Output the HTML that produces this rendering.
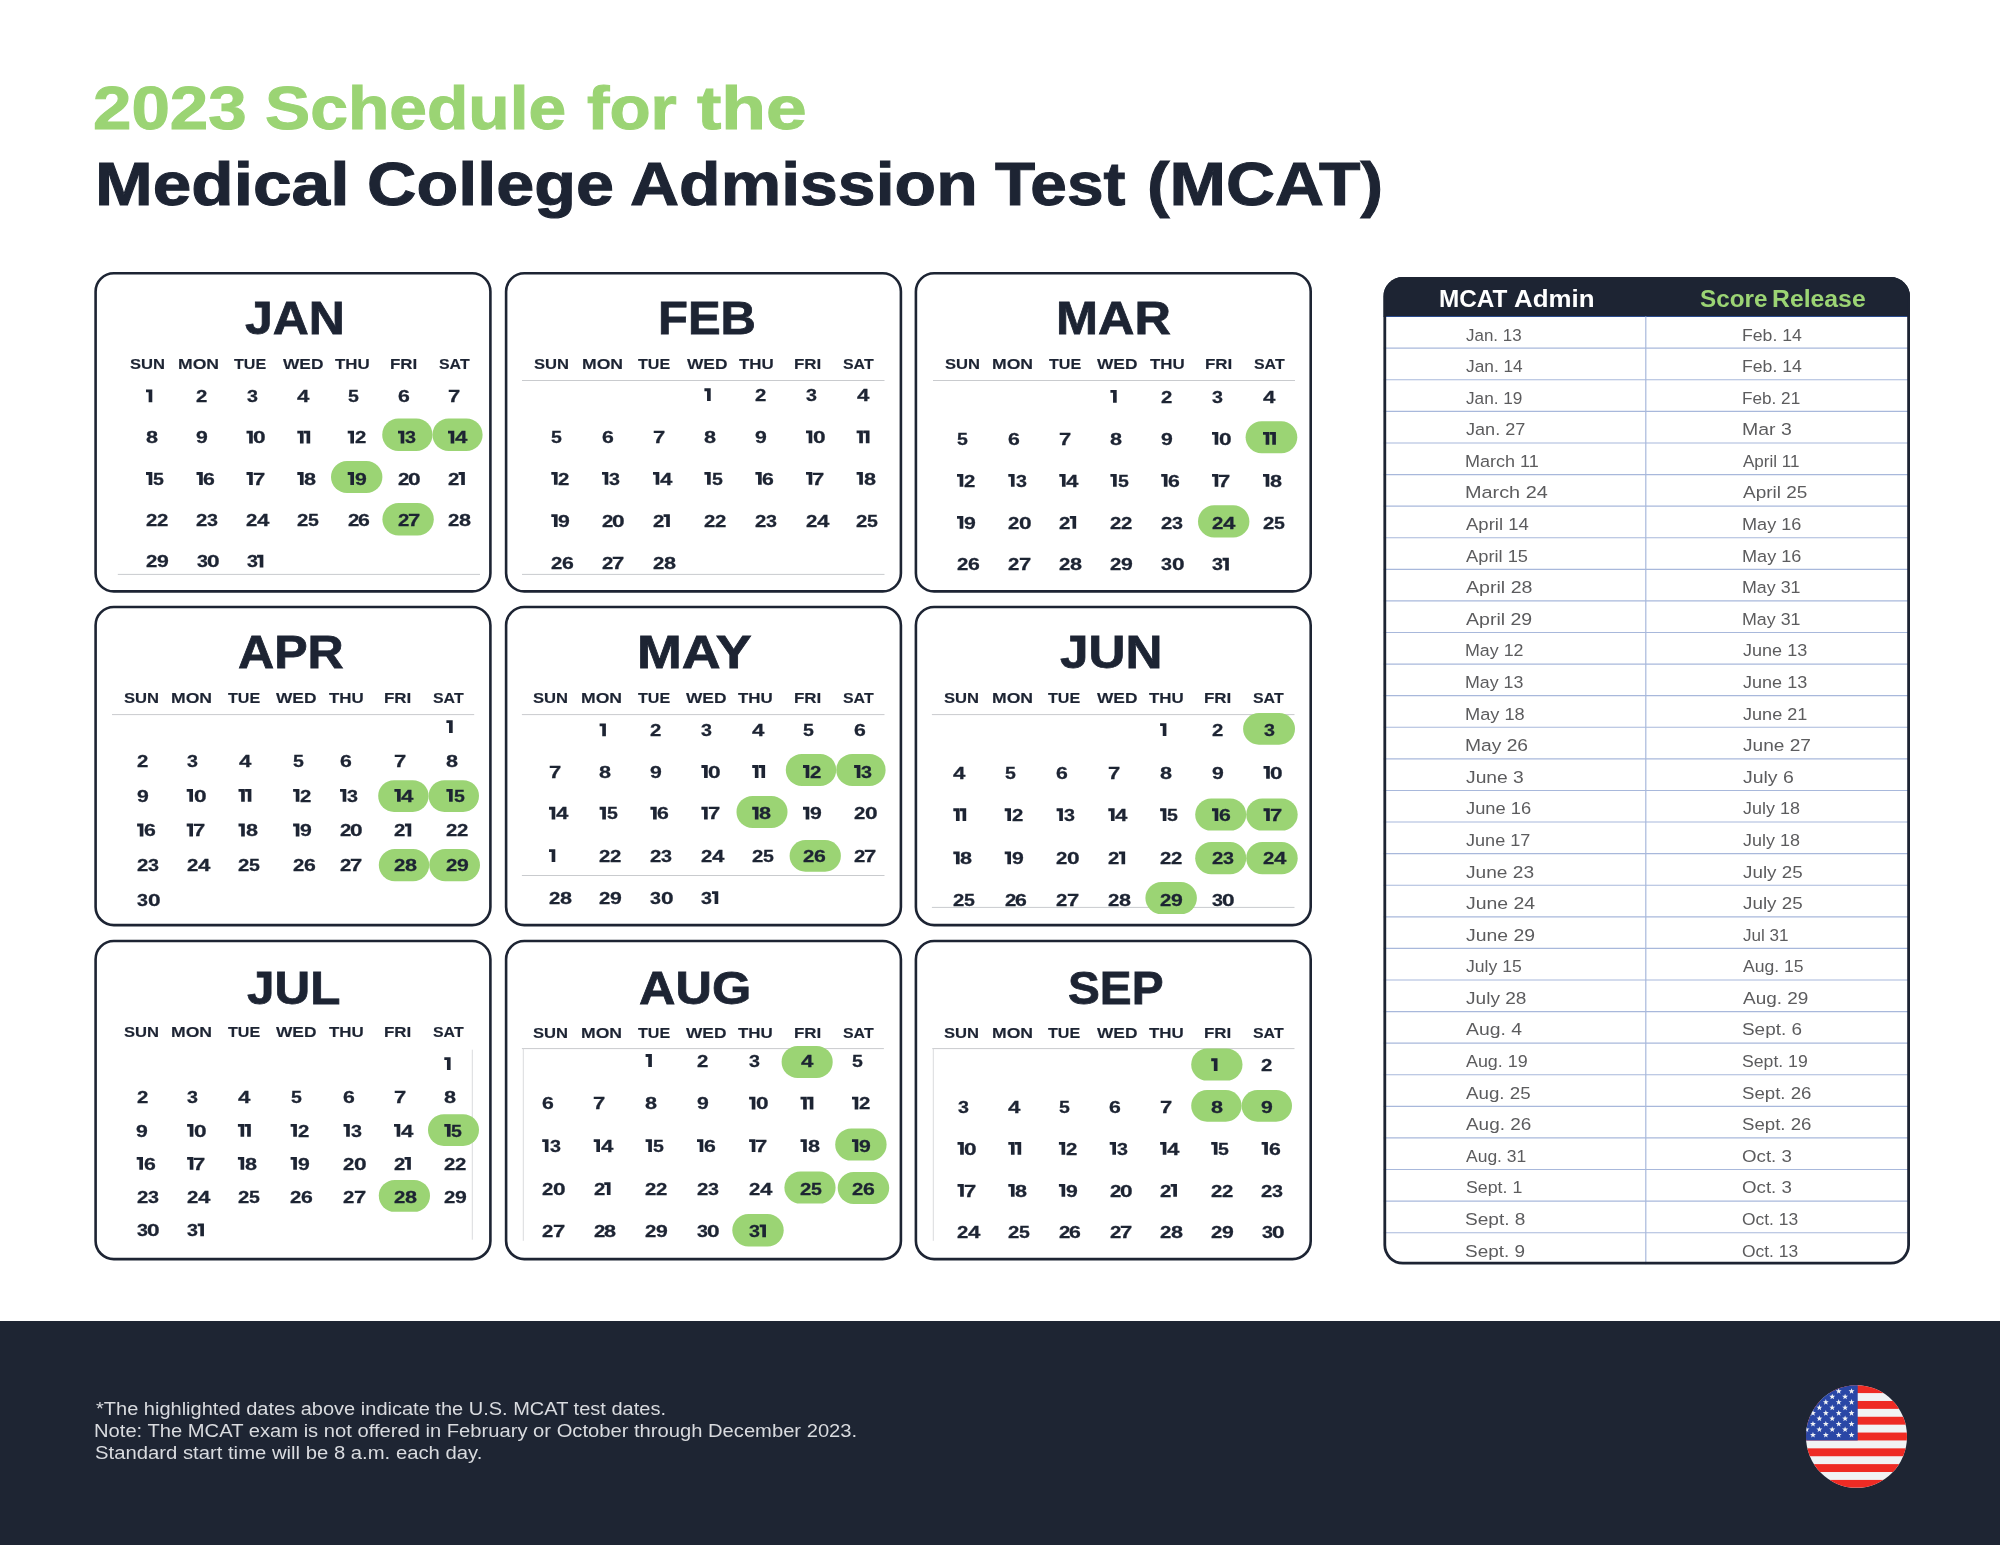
<!DOCTYPE html>
<html><head><meta charset="utf-8"><title>2023 MCAT Schedule</title>
<style>
html,body{margin:0;padding:0;background:#fff;}
body{width:2000px;height:1545px;position:relative;overflow:hidden;font-family:"Liberation Sans",sans-serif;}
#ft{position:absolute;left:0;top:1320.5px;width:2000px;height:224.5px;background:#1e2533;}
svg{position:absolute;left:0;top:0;}
#tx{will-change:transform;}
#tx span{position:absolute;white-space:pre;transform-origin:0 0;display:block;}
</style></head><body>
<div id="ft"></div>
<svg width="2000" height="1545" viewBox="0 0 2000 1545">
<rect x="95.60" y="273.30" width="394.80" height="318.10" rx="18.20" fill="none" stroke="#1d2433" stroke-width="2.6"/>
<line x1="117.8" y1="574.4" x2="480" y2="574.4" stroke="#c9cbce" stroke-width="1"/>
<rect x="382.2" y="418.6" width="50.30" height="32.40" rx="16.20" fill="#9bd474"/>
<rect x="432.5" y="418.6" width="50.10" height="32.40" rx="16.20" fill="#9bd474"/>
<rect x="331" y="461" width="51.40" height="32.00" rx="16.00" fill="#9bd474"/>
<rect x="382.4" y="503" width="51.40" height="32.50" rx="16.25" fill="#9bd474"/>
<path d="M146.00,389.40h6.3v12.80h-3.65v-9.95h-2.65z" fill="#1d2433"/>
<path d="M246.50,430.75h6.3v12.80h-3.65v-9.95h-2.65z" fill="#1d2433"/>
<path d="M297.30,430.75h6.3v12.80h-3.65v-9.95h-2.65z" fill="#1d2433"/>
<path d="M303.90,430.75h6.3v12.80h-3.65v-9.95h-2.65z" fill="#1d2433"/>
<path d="M347.70,430.75h6.3v12.80h-3.65v-9.95h-2.65z" fill="#1d2433"/>
<path d="M398.00,430.75h6.3v12.80h-3.65v-9.95h-2.65z" fill="#1d2433"/>
<path d="M448.00,430.75h6.3v12.80h-3.65v-9.95h-2.65z" fill="#1d2433"/>
<path d="M146.00,472.10h6.3v12.80h-3.65v-9.95h-2.65z" fill="#1d2433"/>
<path d="M196.50,472.10h6.3v12.80h-3.65v-9.95h-2.65z" fill="#1d2433"/>
<path d="M246.50,472.10h6.3v12.80h-3.65v-9.95h-2.65z" fill="#1d2433"/>
<path d="M297.30,472.10h6.3v12.80h-3.65v-9.95h-2.65z" fill="#1d2433"/>
<path d="M347.70,472.10h6.3v12.80h-3.65v-9.95h-2.65z" fill="#1d2433"/>
<path d="M458.55,472.10h6.3v12.80h-3.65v-9.95h-2.65z" fill="#1d2433"/>
<path d="M257.05,554.80h6.3v12.80h-3.65v-9.95h-2.65z" fill="#1d2433"/>
<rect x="506.10" y="273.30" width="394.80" height="318.10" rx="18.20" fill="none" stroke="#1d2433" stroke-width="2.6"/>
<line x1="522" y1="380.5" x2="884.5" y2="380.5" stroke="#c9cbce" stroke-width="1"/>
<line x1="522" y1="574.4" x2="884.5" y2="574.4" stroke="#c9cbce" stroke-width="1"/>
<path d="M704.40,388.30h6.3v12.80h-3.65v-9.95h-2.65z" fill="#1d2433"/>
<path d="M806.00,430.40h6.3v12.80h-3.65v-9.95h-2.65z" fill="#1d2433"/>
<path d="M856.60,430.40h6.3v12.80h-3.65v-9.95h-2.65z" fill="#1d2433"/>
<path d="M863.20,430.40h6.3v12.80h-3.65v-9.95h-2.65z" fill="#1d2433"/>
<path d="M551.30,472.00h6.3v12.80h-3.65v-9.95h-2.65z" fill="#1d2433"/>
<path d="M602.00,472.00h6.3v12.80h-3.65v-9.95h-2.65z" fill="#1d2433"/>
<path d="M653.00,472.00h6.3v12.80h-3.65v-9.95h-2.65z" fill="#1d2433"/>
<path d="M704.40,472.00h6.3v12.80h-3.65v-9.95h-2.65z" fill="#1d2433"/>
<path d="M755.40,472.00h6.3v12.80h-3.65v-9.95h-2.65z" fill="#1d2433"/>
<path d="M806.00,472.00h6.3v12.80h-3.65v-9.95h-2.65z" fill="#1d2433"/>
<path d="M856.60,472.00h6.3v12.80h-3.65v-9.95h-2.65z" fill="#1d2433"/>
<path d="M551.30,514.20h6.3v12.80h-3.65v-9.95h-2.65z" fill="#1d2433"/>
<path d="M663.55,514.20h6.3v12.80h-3.65v-9.95h-2.65z" fill="#1d2433"/>
<rect x="915.90" y="273.30" width="394.80" height="318.10" rx="18.20" fill="none" stroke="#1d2433" stroke-width="2.6"/>
<line x1="933" y1="380.5" x2="1295" y2="380.5" stroke="#c9cbce" stroke-width="1"/>
<rect x="1245.6" y="421.3" width="51.70" height="31.90" rx="15.95" fill="#9bd474"/>
<rect x="1198" y="505.3" width="51.40" height="32.30" rx="16.15" fill="#9bd474"/>
<path d="M1110.40,390.00h6.3v12.80h-3.65v-9.95h-2.65z" fill="#1d2433"/>
<path d="M1212.00,432.00h6.3v12.80h-3.65v-9.95h-2.65z" fill="#1d2433"/>
<path d="M1263.00,432.00h6.3v12.80h-3.65v-9.95h-2.65z" fill="#1d2433"/>
<path d="M1269.60,432.00h6.3v12.80h-3.65v-9.95h-2.65z" fill="#1d2433"/>
<path d="M957.00,474.00h6.3v12.80h-3.65v-9.95h-2.65z" fill="#1d2433"/>
<path d="M1008.30,474.00h6.3v12.80h-3.65v-9.95h-2.65z" fill="#1d2433"/>
<path d="M1059.30,474.00h6.3v12.80h-3.65v-9.95h-2.65z" fill="#1d2433"/>
<path d="M1110.40,474.00h6.3v12.80h-3.65v-9.95h-2.65z" fill="#1d2433"/>
<path d="M1161.20,474.00h6.3v12.80h-3.65v-9.95h-2.65z" fill="#1d2433"/>
<path d="M1212.00,474.00h6.3v12.80h-3.65v-9.95h-2.65z" fill="#1d2433"/>
<path d="M1263.00,474.00h6.3v12.80h-3.65v-9.95h-2.65z" fill="#1d2433"/>
<path d="M957.00,516.00h6.3v12.80h-3.65v-9.95h-2.65z" fill="#1d2433"/>
<path d="M1069.85,516.00h6.3v12.80h-3.65v-9.95h-2.65z" fill="#1d2433"/>
<path d="M1222.55,557.80h6.3v12.80h-3.65v-9.95h-2.65z" fill="#1d2433"/>
<rect x="95.60" y="607.00" width="394.80" height="318.10" rx="18.20" fill="none" stroke="#1d2433" stroke-width="2.6"/>
<line x1="112" y1="714.6" x2="474.2" y2="714.6" stroke="#c9cbce" stroke-width="1"/>
<rect x="378.2" y="780.2" width="50.40" height="31.70" rx="15.85" fill="#9bd474"/>
<rect x="428.6" y="780.2" width="50.40" height="31.70" rx="15.85" fill="#9bd474"/>
<rect x="378.8" y="849" width="50.40" height="32.20" rx="16.10" fill="#9bd474"/>
<rect x="429.2" y="849" width="50.80" height="32.20" rx="16.10" fill="#9bd474"/>
<path d="M446.40,720.20h6.3v12.80h-3.65v-9.95h-2.65z" fill="#1d2433"/>
<path d="M186.70,789.00h6.3v12.80h-3.65v-9.95h-2.65z" fill="#1d2433"/>
<path d="M238.50,789.00h6.3v12.80h-3.65v-9.95h-2.65z" fill="#1d2433"/>
<path d="M245.10,789.00h6.3v12.80h-3.65v-9.95h-2.65z" fill="#1d2433"/>
<path d="M293.10,789.00h6.3v12.80h-3.65v-9.95h-2.65z" fill="#1d2433"/>
<path d="M340.00,789.00h6.3v12.80h-3.65v-9.95h-2.65z" fill="#1d2433"/>
<path d="M394.40,789.00h6.3v12.80h-3.65v-9.95h-2.65z" fill="#1d2433"/>
<path d="M446.40,789.00h6.3v12.80h-3.65v-9.95h-2.65z" fill="#1d2433"/>
<path d="M137.10,823.60h6.3v12.80h-3.65v-9.95h-2.65z" fill="#1d2433"/>
<path d="M186.70,823.60h6.3v12.80h-3.65v-9.95h-2.65z" fill="#1d2433"/>
<path d="M238.50,823.60h6.3v12.80h-3.65v-9.95h-2.65z" fill="#1d2433"/>
<path d="M293.10,823.60h6.3v12.80h-3.65v-9.95h-2.65z" fill="#1d2433"/>
<path d="M404.95,823.60h6.3v12.80h-3.65v-9.95h-2.65z" fill="#1d2433"/>
<rect x="506.10" y="607.00" width="394.80" height="318.10" rx="18.20" fill="none" stroke="#1d2433" stroke-width="2.6"/>
<line x1="521.9" y1="714.6" x2="884.5" y2="714.6" stroke="#c9cbce" stroke-width="1"/>
<line x1="521.9" y1="875.5" x2="884.5" y2="875.5" stroke="#c9cbce" stroke-width="1"/>
<rect x="785.8" y="753.9" width="50.40" height="32.10" rx="16.05" fill="#9bd474"/>
<rect x="836.2" y="753.9" width="49.40" height="32.10" rx="16.05" fill="#9bd474"/>
<rect x="736.5" y="795.9" width="51.00" height="32.10" rx="16.05" fill="#9bd474"/>
<rect x="789.6" y="840" width="51.30" height="31.70" rx="15.85" fill="#9bd474"/>
<path d="M599.60,723.50h6.3v12.80h-3.65v-9.95h-2.65z" fill="#1d2433"/>
<path d="M701.40,765.10h6.3v12.80h-3.65v-9.95h-2.65z" fill="#1d2433"/>
<path d="M752.20,765.10h6.3v12.80h-3.65v-9.95h-2.65z" fill="#1d2433"/>
<path d="M758.80,765.10h6.3v12.80h-3.65v-9.95h-2.65z" fill="#1d2433"/>
<path d="M803.00,765.10h6.3v12.80h-3.65v-9.95h-2.65z" fill="#1d2433"/>
<path d="M854.10,765.10h6.3v12.80h-3.65v-9.95h-2.65z" fill="#1d2433"/>
<path d="M549.00,806.80h6.3v12.80h-3.65v-9.95h-2.65z" fill="#1d2433"/>
<path d="M599.60,806.80h6.3v12.80h-3.65v-9.95h-2.65z" fill="#1d2433"/>
<path d="M650.40,806.80h6.3v12.80h-3.65v-9.95h-2.65z" fill="#1d2433"/>
<path d="M701.40,806.80h6.3v12.80h-3.65v-9.95h-2.65z" fill="#1d2433"/>
<path d="M752.20,806.80h6.3v12.80h-3.65v-9.95h-2.65z" fill="#1d2433"/>
<path d="M803.00,806.80h6.3v12.80h-3.65v-9.95h-2.65z" fill="#1d2433"/>
<path d="M549.00,849.20h6.3v12.80h-3.65v-9.95h-2.65z" fill="#1d2433"/>
<path d="M711.95,891.20h6.3v12.80h-3.65v-9.95h-2.65z" fill="#1d2433"/>
<rect x="915.90" y="607.00" width="394.80" height="318.10" rx="18.20" fill="none" stroke="#1d2433" stroke-width="2.6"/>
<line x1="931.9" y1="714.6" x2="1294.5" y2="714.6" stroke="#c9cbce" stroke-width="1"/>
<line x1="931.9" y1="907.4" x2="1294.5" y2="907.4" stroke="#c9cbce" stroke-width="1"/>
<rect x="1243.1" y="713" width="51.90" height="31.70" rx="15.85" fill="#9bd474"/>
<rect x="1195.2" y="798.6" width="51.00" height="32.00" rx="16.00" fill="#9bd474"/>
<rect x="1246.2" y="798.6" width="51.50" height="32.00" rx="16.00" fill="#9bd474"/>
<rect x="1195.2" y="842.1" width="51.00" height="32.10" rx="16.05" fill="#9bd474"/>
<rect x="1246.2" y="842.1" width="51.50" height="32.10" rx="16.05" fill="#9bd474"/>
<rect x="1145.4" y="882" width="51.50" height="32.10" rx="16.05" fill="#9bd474"/>
<path d="M1160.10,723.20h6.3v12.80h-3.65v-9.95h-2.65z" fill="#1d2433"/>
<path d="M1263.50,765.90h6.3v12.80h-3.65v-9.95h-2.65z" fill="#1d2433"/>
<path d="M953.30,808.30h6.3v12.80h-3.65v-9.95h-2.65z" fill="#1d2433"/>
<path d="M959.90,808.30h6.3v12.80h-3.65v-9.95h-2.65z" fill="#1d2433"/>
<path d="M1004.70,808.30h6.3v12.80h-3.65v-9.95h-2.65z" fill="#1d2433"/>
<path d="M1056.60,808.30h6.3v12.80h-3.65v-9.95h-2.65z" fill="#1d2433"/>
<path d="M1108.30,808.30h6.3v12.80h-3.65v-9.95h-2.65z" fill="#1d2433"/>
<path d="M1160.10,808.30h6.3v12.80h-3.65v-9.95h-2.65z" fill="#1d2433"/>
<path d="M1212.00,808.30h6.3v12.80h-3.65v-9.95h-2.65z" fill="#1d2433"/>
<path d="M1263.50,808.30h6.3v12.80h-3.65v-9.95h-2.65z" fill="#1d2433"/>
<path d="M953.30,851.40h6.3v12.80h-3.65v-9.95h-2.65z" fill="#1d2433"/>
<path d="M1004.70,851.40h6.3v12.80h-3.65v-9.95h-2.65z" fill="#1d2433"/>
<path d="M1118.85,851.40h6.3v12.80h-3.65v-9.95h-2.65z" fill="#1d2433"/>
<rect x="95.60" y="941.00" width="394.80" height="318.10" rx="18.20" fill="none" stroke="#1d2433" stroke-width="2.6"/>
<line x1="472.3" y1="1049.7" x2="472.3" y2="1239.7" stroke="#d6d7da" stroke-width="0.9"/>
<rect x="428" y="1114.2" width="51.00" height="31.70" rx="15.85" fill="#9bd474"/>
<rect x="378.8" y="1179.9" width="51.20" height="31.90" rx="15.95" fill="#9bd474"/>
<path d="M444.30,1057.20h6.3v12.80h-3.65v-9.95h-2.65z" fill="#1d2433"/>
<path d="M187.10,1123.90h6.3v12.80h-3.65v-9.95h-2.65z" fill="#1d2433"/>
<path d="M237.90,1123.90h6.3v12.80h-3.65v-9.95h-2.65z" fill="#1d2433"/>
<path d="M244.50,1123.90h6.3v12.80h-3.65v-9.95h-2.65z" fill="#1d2433"/>
<path d="M290.60,1123.90h6.3v12.80h-3.65v-9.95h-2.65z" fill="#1d2433"/>
<path d="M343.50,1123.90h6.3v12.80h-3.65v-9.95h-2.65z" fill="#1d2433"/>
<path d="M394.00,1123.90h6.3v12.80h-3.65v-9.95h-2.65z" fill="#1d2433"/>
<path d="M444.30,1123.90h6.3v12.80h-3.65v-9.95h-2.65z" fill="#1d2433"/>
<path d="M136.70,1157.00h6.3v12.80h-3.65v-9.95h-2.65z" fill="#1d2433"/>
<path d="M187.10,1157.00h6.3v12.80h-3.65v-9.95h-2.65z" fill="#1d2433"/>
<path d="M237.90,1157.00h6.3v12.80h-3.65v-9.95h-2.65z" fill="#1d2433"/>
<path d="M290.60,1157.00h6.3v12.80h-3.65v-9.95h-2.65z" fill="#1d2433"/>
<path d="M404.55,1157.00h6.3v12.80h-3.65v-9.95h-2.65z" fill="#1d2433"/>
<path d="M197.65,1223.40h6.3v12.80h-3.65v-9.95h-2.65z" fill="#1d2433"/>
<rect x="506.10" y="941.00" width="394.80" height="318.10" rx="18.20" fill="none" stroke="#1d2433" stroke-width="2.6"/>
<line x1="521.9" y1="1048.6" x2="883.9" y2="1048.6" stroke="#c9cbce" stroke-width="1"/>
<line x1="523.3" y1="1048.6" x2="523.3" y2="1240.8" stroke="#d6d7da" stroke-width="0.9"/>
<rect x="781.6" y="1045.9" width="51.10" height="32.10" rx="16.05" fill="#9bd474"/>
<rect x="835.2" y="1128.4" width="51.40" height="32.20" rx="16.10" fill="#9bd474"/>
<rect x="784.4" y="1171.5" width="51.20" height="32.10" rx="16.05" fill="#9bd474"/>
<rect x="837.7" y="1172.1" width="51.50" height="31.90" rx="15.95" fill="#9bd474"/>
<rect x="732.3" y="1214.1" width="51.40" height="32.40" rx="16.20" fill="#9bd474"/>
<path d="M645.60,1054.10h6.3v12.80h-3.65v-9.95h-2.65z" fill="#1d2433"/>
<path d="M749.10,1096.70h6.3v12.80h-3.65v-9.95h-2.65z" fill="#1d2433"/>
<path d="M800.50,1096.70h6.3v12.80h-3.65v-9.95h-2.65z" fill="#1d2433"/>
<path d="M807.10,1096.70h6.3v12.80h-3.65v-9.95h-2.65z" fill="#1d2433"/>
<path d="M852.00,1096.70h6.3v12.80h-3.65v-9.95h-2.65z" fill="#1d2433"/>
<path d="M542.20,1139.20h6.3v12.80h-3.65v-9.95h-2.65z" fill="#1d2433"/>
<path d="M593.70,1139.20h6.3v12.80h-3.65v-9.95h-2.65z" fill="#1d2433"/>
<path d="M645.60,1139.20h6.3v12.80h-3.65v-9.95h-2.65z" fill="#1d2433"/>
<path d="M697.00,1139.20h6.3v12.80h-3.65v-9.95h-2.65z" fill="#1d2433"/>
<path d="M749.10,1139.20h6.3v12.80h-3.65v-9.95h-2.65z" fill="#1d2433"/>
<path d="M800.50,1139.20h6.3v12.80h-3.65v-9.95h-2.65z" fill="#1d2433"/>
<path d="M852.00,1139.20h6.3v12.80h-3.65v-9.95h-2.65z" fill="#1d2433"/>
<path d="M604.25,1182.20h6.3v12.80h-3.65v-9.95h-2.65z" fill="#1d2433"/>
<path d="M759.65,1224.40h6.3v12.80h-3.65v-9.95h-2.65z" fill="#1d2433"/>
<rect x="915.90" y="941.00" width="394.80" height="318.10" rx="18.20" fill="none" stroke="#1d2433" stroke-width="2.6"/>
<line x1="932.3" y1="1048.6" x2="1294.5" y2="1048.6" stroke="#c9cbce" stroke-width="1"/>
<line x1="933.3" y1="1048.6" x2="933.3" y2="1240.8" stroke="#d6d7da" stroke-width="0.9"/>
<rect x="1191.2" y="1048.6" width="51.30" height="32.00" rx="16.00" fill="#9bd474"/>
<rect x="1191.2" y="1090" width="50.40" height="31.70" rx="15.85" fill="#9bd474"/>
<rect x="1241.6" y="1090" width="50.40" height="31.70" rx="15.85" fill="#9bd474"/>
<path d="M1211.20,1058.30h6.3v12.80h-3.65v-9.95h-2.65z" fill="#1d2433"/>
<path d="M957.50,1141.90h6.3v12.80h-3.65v-9.95h-2.65z" fill="#1d2433"/>
<path d="M1008.30,1141.90h6.3v12.80h-3.65v-9.95h-2.65z" fill="#1d2433"/>
<path d="M1014.90,1141.90h6.3v12.80h-3.65v-9.95h-2.65z" fill="#1d2433"/>
<path d="M1058.90,1141.90h6.3v12.80h-3.65v-9.95h-2.65z" fill="#1d2433"/>
<path d="M1109.70,1141.90h6.3v12.80h-3.65v-9.95h-2.65z" fill="#1d2433"/>
<path d="M1160.10,1141.90h6.3v12.80h-3.65v-9.95h-2.65z" fill="#1d2433"/>
<path d="M1211.20,1141.90h6.3v12.80h-3.65v-9.95h-2.65z" fill="#1d2433"/>
<path d="M1261.60,1141.90h6.3v12.80h-3.65v-9.95h-2.65z" fill="#1d2433"/>
<path d="M957.50,1183.90h6.3v12.80h-3.65v-9.95h-2.65z" fill="#1d2433"/>
<path d="M1008.30,1183.90h6.3v12.80h-3.65v-9.95h-2.65z" fill="#1d2433"/>
<path d="M1058.90,1183.90h6.3v12.80h-3.65v-9.95h-2.65z" fill="#1d2433"/>
<path d="M1170.65,1183.90h6.3v12.80h-3.65v-9.95h-2.65z" fill="#1d2433"/>
<clipPath id="tc"><rect x="1383.4" y="277" width="526.5999999999999" height="987.5999999999999" rx="19.5"/></clipPath>
<g clip-path="url(#tc)"><rect x="1383.4" y="277" width="526.5999999999999" height="39.60000000000002" fill="#1d2433"/>
<line x1="1383.4" y1="348.19" x2="1910" y2="348.19" stroke="#a8b8db" stroke-width="1.15"/>
<line x1="1383.4" y1="379.78" x2="1910" y2="379.78" stroke="#a8b8db" stroke-width="1.15"/>
<line x1="1383.4" y1="411.37" x2="1910" y2="411.37" stroke="#a8b8db" stroke-width="1.15"/>
<line x1="1383.4" y1="442.96" x2="1910" y2="442.96" stroke="#a8b8db" stroke-width="1.15"/>
<line x1="1383.4" y1="474.55" x2="1910" y2="474.55" stroke="#a8b8db" stroke-width="1.15"/>
<line x1="1383.4" y1="506.14" x2="1910" y2="506.14" stroke="#a8b8db" stroke-width="1.15"/>
<line x1="1383.4" y1="537.73" x2="1910" y2="537.73" stroke="#a8b8db" stroke-width="1.15"/>
<line x1="1383.4" y1="569.32" x2="1910" y2="569.32" stroke="#a8b8db" stroke-width="1.15"/>
<line x1="1383.4" y1="600.91" x2="1910" y2="600.91" stroke="#a8b8db" stroke-width="1.15"/>
<line x1="1383.4" y1="632.50" x2="1910" y2="632.50" stroke="#a8b8db" stroke-width="1.15"/>
<line x1="1383.4" y1="664.09" x2="1910" y2="664.09" stroke="#a8b8db" stroke-width="1.15"/>
<line x1="1383.4" y1="695.68" x2="1910" y2="695.68" stroke="#a8b8db" stroke-width="1.15"/>
<line x1="1383.4" y1="727.27" x2="1910" y2="727.27" stroke="#a8b8db" stroke-width="1.15"/>
<line x1="1383.4" y1="758.86" x2="1910" y2="758.86" stroke="#a8b8db" stroke-width="1.15"/>
<line x1="1383.4" y1="790.45" x2="1910" y2="790.45" stroke="#a8b8db" stroke-width="1.15"/>
<line x1="1383.4" y1="822.04" x2="1910" y2="822.04" stroke="#a8b8db" stroke-width="1.15"/>
<line x1="1383.4" y1="853.63" x2="1910" y2="853.63" stroke="#a8b8db" stroke-width="1.15"/>
<line x1="1383.4" y1="885.22" x2="1910" y2="885.22" stroke="#a8b8db" stroke-width="1.15"/>
<line x1="1383.4" y1="916.81" x2="1910" y2="916.81" stroke="#a8b8db" stroke-width="1.15"/>
<line x1="1383.4" y1="948.40" x2="1910" y2="948.40" stroke="#a8b8db" stroke-width="1.15"/>
<line x1="1383.4" y1="979.99" x2="1910" y2="979.99" stroke="#a8b8db" stroke-width="1.15"/>
<line x1="1383.4" y1="1011.58" x2="1910" y2="1011.58" stroke="#a8b8db" stroke-width="1.15"/>
<line x1="1383.4" y1="1043.17" x2="1910" y2="1043.17" stroke="#a8b8db" stroke-width="1.15"/>
<line x1="1383.4" y1="1074.76" x2="1910" y2="1074.76" stroke="#a8b8db" stroke-width="1.15"/>
<line x1="1383.4" y1="1106.35" x2="1910" y2="1106.35" stroke="#a8b8db" stroke-width="1.15"/>
<line x1="1383.4" y1="1137.94" x2="1910" y2="1137.94" stroke="#a8b8db" stroke-width="1.15"/>
<line x1="1383.4" y1="1169.53" x2="1910" y2="1169.53" stroke="#a8b8db" stroke-width="1.15"/>
<line x1="1383.4" y1="1201.12" x2="1910" y2="1201.12" stroke="#a8b8db" stroke-width="1.15"/>
<line x1="1383.4" y1="1232.71" x2="1910" y2="1232.71" stroke="#a8b8db" stroke-width="1.15"/>
<line x1="1383.4" y1="316.50" x2="1910" y2="316.50" stroke="#2a4b8d" stroke-width="1"/>
<line x1="1645.8" y1="316.6" x2="1645.8" y2="1264.6" stroke="#a8b8db" stroke-width="1.2"/></g>
<rect x="1384.80" y="278.40" width="523.80" height="984.80" rx="18.10" fill="none" stroke="#1d2433" stroke-width="2.8"/>
<clipPath id="fc"><ellipse cx="1856.5" cy="1436.5" rx="50.5" ry="51.3"/></clipPath><g clip-path="url(#fc)">
<rect x="1804.2" y="1384.2" width="104.6" height="104.6" fill="#f1f3f4"/>
<rect x="1804.2" y="1385.20" width="104.6" height="7.89" fill="#ee2b24"/>
<rect x="1804.2" y="1400.98" width="104.6" height="7.89" fill="#ee2b24"/>
<rect x="1804.2" y="1416.77" width="104.6" height="7.89" fill="#ee2b24"/>
<rect x="1804.2" y="1432.55" width="104.6" height="7.89" fill="#ee2b24"/>
<rect x="1804.2" y="1448.34" width="104.6" height="7.89" fill="#ee2b24"/>
<rect x="1804.2" y="1464.12" width="104.6" height="7.89" fill="#ee2b24"/>
<rect x="1804.2" y="1479.91" width="104.6" height="7.89" fill="#ee2b24"/>
<rect x="1804.2" y="1384.2" width="53.50" height="56.25" fill="#2a47a6"/>
<polygon points="1851.55,1388.20 1852.32,1390.25 1854.50,1390.34 1852.79,1391.70 1853.37,1393.81 1851.55,1392.60 1849.73,1393.81 1850.31,1391.70 1848.60,1390.34 1850.78,1390.25" fill="#f1f3f4"/>
<polygon points="1838.69,1388.20 1839.46,1390.25 1841.64,1390.34 1839.93,1391.70 1840.51,1393.81 1838.69,1392.60 1836.87,1393.81 1837.45,1391.70 1835.74,1390.34 1837.92,1390.25" fill="#f1f3f4"/>
<polygon points="1825.83,1388.20 1826.60,1390.25 1828.78,1390.34 1827.07,1391.70 1827.65,1393.81 1825.83,1392.60 1824.01,1393.81 1824.59,1391.70 1822.88,1390.34 1825.06,1390.25" fill="#f1f3f4"/>
<polygon points="1812.97,1388.20 1813.74,1390.25 1815.92,1390.34 1814.21,1391.70 1814.79,1393.81 1812.97,1392.60 1811.15,1393.81 1811.73,1391.70 1810.02,1390.34 1812.20,1390.25" fill="#f1f3f4"/>
<polygon points="1800.11,1388.20 1800.88,1390.25 1803.06,1390.34 1801.35,1391.70 1801.93,1393.81 1800.11,1392.60 1798.29,1393.81 1798.87,1391.70 1797.16,1390.34 1799.34,1390.25" fill="#f1f3f4"/>
<polygon points="1845.10,1393.66 1845.87,1395.71 1848.05,1395.80 1846.34,1397.16 1846.92,1399.27 1845.10,1398.06 1843.28,1399.27 1843.86,1397.16 1842.15,1395.80 1844.33,1395.71" fill="#f1f3f4"/>
<polygon points="1832.24,1393.66 1833.01,1395.71 1835.19,1395.80 1833.48,1397.16 1834.06,1399.27 1832.24,1398.06 1830.42,1399.27 1831.00,1397.16 1829.29,1395.80 1831.47,1395.71" fill="#f1f3f4"/>
<polygon points="1819.38,1393.66 1820.15,1395.71 1822.33,1395.80 1820.62,1397.16 1821.20,1399.27 1819.38,1398.06 1817.56,1399.27 1818.14,1397.16 1816.43,1395.80 1818.61,1395.71" fill="#f1f3f4"/>
<polygon points="1806.52,1393.66 1807.29,1395.71 1809.47,1395.80 1807.76,1397.16 1808.34,1399.27 1806.52,1398.06 1804.70,1399.27 1805.28,1397.16 1803.57,1395.80 1805.75,1395.71" fill="#f1f3f4"/>
<polygon points="1851.55,1399.12 1852.32,1401.17 1854.50,1401.26 1852.79,1402.62 1853.37,1404.73 1851.55,1403.52 1849.73,1404.73 1850.31,1402.62 1848.60,1401.26 1850.78,1401.17" fill="#f1f3f4"/>
<polygon points="1838.69,1399.12 1839.46,1401.17 1841.64,1401.26 1839.93,1402.62 1840.51,1404.73 1838.69,1403.52 1836.87,1404.73 1837.45,1402.62 1835.74,1401.26 1837.92,1401.17" fill="#f1f3f4"/>
<polygon points="1825.83,1399.12 1826.60,1401.17 1828.78,1401.26 1827.07,1402.62 1827.65,1404.73 1825.83,1403.52 1824.01,1404.73 1824.59,1402.62 1822.88,1401.26 1825.06,1401.17" fill="#f1f3f4"/>
<polygon points="1812.97,1399.12 1813.74,1401.17 1815.92,1401.26 1814.21,1402.62 1814.79,1404.73 1812.97,1403.52 1811.15,1404.73 1811.73,1402.62 1810.02,1401.26 1812.20,1401.17" fill="#f1f3f4"/>
<polygon points="1800.11,1399.12 1800.88,1401.17 1803.06,1401.26 1801.35,1402.62 1801.93,1404.73 1800.11,1403.52 1798.29,1404.73 1798.87,1402.62 1797.16,1401.26 1799.34,1401.17" fill="#f1f3f4"/>
<polygon points="1845.10,1404.58 1845.87,1406.63 1848.05,1406.72 1846.34,1408.08 1846.92,1410.19 1845.10,1408.98 1843.28,1410.19 1843.86,1408.08 1842.15,1406.72 1844.33,1406.63" fill="#f1f3f4"/>
<polygon points="1832.24,1404.58 1833.01,1406.63 1835.19,1406.72 1833.48,1408.08 1834.06,1410.19 1832.24,1408.98 1830.42,1410.19 1831.00,1408.08 1829.29,1406.72 1831.47,1406.63" fill="#f1f3f4"/>
<polygon points="1819.38,1404.58 1820.15,1406.63 1822.33,1406.72 1820.62,1408.08 1821.20,1410.19 1819.38,1408.98 1817.56,1410.19 1818.14,1408.08 1816.43,1406.72 1818.61,1406.63" fill="#f1f3f4"/>
<polygon points="1806.52,1404.58 1807.29,1406.63 1809.47,1406.72 1807.76,1408.08 1808.34,1410.19 1806.52,1408.98 1804.70,1410.19 1805.28,1408.08 1803.57,1406.72 1805.75,1406.63" fill="#f1f3f4"/>
<polygon points="1851.55,1410.04 1852.32,1412.09 1854.50,1412.18 1852.79,1413.54 1853.37,1415.65 1851.55,1414.44 1849.73,1415.65 1850.31,1413.54 1848.60,1412.18 1850.78,1412.09" fill="#f1f3f4"/>
<polygon points="1838.69,1410.04 1839.46,1412.09 1841.64,1412.18 1839.93,1413.54 1840.51,1415.65 1838.69,1414.44 1836.87,1415.65 1837.45,1413.54 1835.74,1412.18 1837.92,1412.09" fill="#f1f3f4"/>
<polygon points="1825.83,1410.04 1826.60,1412.09 1828.78,1412.18 1827.07,1413.54 1827.65,1415.65 1825.83,1414.44 1824.01,1415.65 1824.59,1413.54 1822.88,1412.18 1825.06,1412.09" fill="#f1f3f4"/>
<polygon points="1812.97,1410.04 1813.74,1412.09 1815.92,1412.18 1814.21,1413.54 1814.79,1415.65 1812.97,1414.44 1811.15,1415.65 1811.73,1413.54 1810.02,1412.18 1812.20,1412.09" fill="#f1f3f4"/>
<polygon points="1800.11,1410.04 1800.88,1412.09 1803.06,1412.18 1801.35,1413.54 1801.93,1415.65 1800.11,1414.44 1798.29,1415.65 1798.87,1413.54 1797.16,1412.18 1799.34,1412.09" fill="#f1f3f4"/>
<polygon points="1845.10,1415.50 1845.87,1417.55 1848.05,1417.64 1846.34,1419.00 1846.92,1421.11 1845.10,1419.90 1843.28,1421.11 1843.86,1419.00 1842.15,1417.64 1844.33,1417.55" fill="#f1f3f4"/>
<polygon points="1832.24,1415.50 1833.01,1417.55 1835.19,1417.64 1833.48,1419.00 1834.06,1421.11 1832.24,1419.90 1830.42,1421.11 1831.00,1419.00 1829.29,1417.64 1831.47,1417.55" fill="#f1f3f4"/>
<polygon points="1819.38,1415.50 1820.15,1417.55 1822.33,1417.64 1820.62,1419.00 1821.20,1421.11 1819.38,1419.90 1817.56,1421.11 1818.14,1419.00 1816.43,1417.64 1818.61,1417.55" fill="#f1f3f4"/>
<polygon points="1806.52,1415.50 1807.29,1417.55 1809.47,1417.64 1807.76,1419.00 1808.34,1421.11 1806.52,1419.90 1804.70,1421.11 1805.28,1419.00 1803.57,1417.64 1805.75,1417.55" fill="#f1f3f4"/>
<polygon points="1851.55,1420.96 1852.32,1423.01 1854.50,1423.10 1852.79,1424.46 1853.37,1426.57 1851.55,1425.36 1849.73,1426.57 1850.31,1424.46 1848.60,1423.10 1850.78,1423.01" fill="#f1f3f4"/>
<polygon points="1838.69,1420.96 1839.46,1423.01 1841.64,1423.10 1839.93,1424.46 1840.51,1426.57 1838.69,1425.36 1836.87,1426.57 1837.45,1424.46 1835.74,1423.10 1837.92,1423.01" fill="#f1f3f4"/>
<polygon points="1825.83,1420.96 1826.60,1423.01 1828.78,1423.10 1827.07,1424.46 1827.65,1426.57 1825.83,1425.36 1824.01,1426.57 1824.59,1424.46 1822.88,1423.10 1825.06,1423.01" fill="#f1f3f4"/>
<polygon points="1812.97,1420.96 1813.74,1423.01 1815.92,1423.10 1814.21,1424.46 1814.79,1426.57 1812.97,1425.36 1811.15,1426.57 1811.73,1424.46 1810.02,1423.10 1812.20,1423.01" fill="#f1f3f4"/>
<polygon points="1800.11,1420.96 1800.88,1423.01 1803.06,1423.10 1801.35,1424.46 1801.93,1426.57 1800.11,1425.36 1798.29,1426.57 1798.87,1424.46 1797.16,1423.10 1799.34,1423.01" fill="#f1f3f4"/>
<polygon points="1845.10,1426.42 1845.87,1428.47 1848.05,1428.56 1846.34,1429.92 1846.92,1432.03 1845.10,1430.82 1843.28,1432.03 1843.86,1429.92 1842.15,1428.56 1844.33,1428.47" fill="#f1f3f4"/>
<polygon points="1832.24,1426.42 1833.01,1428.47 1835.19,1428.56 1833.48,1429.92 1834.06,1432.03 1832.24,1430.82 1830.42,1432.03 1831.00,1429.92 1829.29,1428.56 1831.47,1428.47" fill="#f1f3f4"/>
<polygon points="1819.38,1426.42 1820.15,1428.47 1822.33,1428.56 1820.62,1429.92 1821.20,1432.03 1819.38,1430.82 1817.56,1432.03 1818.14,1429.92 1816.43,1428.56 1818.61,1428.47" fill="#f1f3f4"/>
<polygon points="1806.52,1426.42 1807.29,1428.47 1809.47,1428.56 1807.76,1429.92 1808.34,1432.03 1806.52,1430.82 1804.70,1432.03 1805.28,1429.92 1803.57,1428.56 1805.75,1428.47" fill="#f1f3f4"/>
<polygon points="1851.55,1431.88 1852.32,1433.93 1854.50,1434.02 1852.79,1435.38 1853.37,1437.49 1851.55,1436.28 1849.73,1437.49 1850.31,1435.38 1848.60,1434.02 1850.78,1433.93" fill="#f1f3f4"/>
<polygon points="1838.69,1431.88 1839.46,1433.93 1841.64,1434.02 1839.93,1435.38 1840.51,1437.49 1838.69,1436.28 1836.87,1437.49 1837.45,1435.38 1835.74,1434.02 1837.92,1433.93" fill="#f1f3f4"/>
<polygon points="1825.83,1431.88 1826.60,1433.93 1828.78,1434.02 1827.07,1435.38 1827.65,1437.49 1825.83,1436.28 1824.01,1437.49 1824.59,1435.38 1822.88,1434.02 1825.06,1433.93" fill="#f1f3f4"/>
<polygon points="1812.97,1431.88 1813.74,1433.93 1815.92,1434.02 1814.21,1435.38 1814.79,1437.49 1812.97,1436.28 1811.15,1437.49 1811.73,1435.38 1810.02,1434.02 1812.20,1433.93" fill="#f1f3f4"/>
<polygon points="1800.11,1431.88 1800.88,1433.93 1803.06,1434.02 1801.35,1435.38 1801.93,1437.49 1800.11,1436.28 1798.29,1437.49 1798.87,1435.38 1797.16,1434.02 1799.34,1433.93" fill="#f1f3f4"/>
</g>
</svg>
<div id="tx">
<span style="left:92.57px;top:70.99px;font-size:61.73px;line-height:74px;font-weight:bold;color:#9bd474;transform:scaleX(1.1193);-webkit-text-stroke:1.01px #9bd474;">2023</span>
<span style="left:264.96px;top:70.99px;font-size:61.73px;line-height:74px;font-weight:bold;color:#9bd474;transform:scaleX(1.0979);-webkit-text-stroke:1.01px #9bd474;">Schedule</span>
<span style="left:586.91px;top:70.99px;font-size:61.73px;line-height:74px;font-weight:bold;color:#9bd474;transform:scaleX(1.0919);-webkit-text-stroke:1.01px #9bd474;">for</span>
<span style="left:696.68px;top:70.99px;font-size:61.73px;line-height:74px;font-weight:bold;color:#9bd474;transform:scaleX(1.1856);-webkit-text-stroke:1.01px #9bd474;">the</span>
<span style="left:94.91px;top:146.69px;font-size:61.73px;line-height:74px;font-weight:bold;color:#1d2433;transform:scaleX(1.1239);-webkit-text-stroke:1.01px #1d2433;">Medical</span>
<span style="left:367.27px;top:146.69px;font-size:61.73px;line-height:74px;font-weight:bold;color:#1d2433;transform:scaleX(1.1078);-webkit-text-stroke:1.01px #1d2433;">College</span>
<span style="left:630.19px;top:146.69px;font-size:61.73px;line-height:74px;font-weight:bold;color:#1d2433;transform:scaleX(1.1020);-webkit-text-stroke:1.01px #1d2433;">Admission</span>
<span style="left:994.85px;top:146.69px;font-size:61.73px;line-height:74px;font-weight:bold;color:#1d2433;transform:scaleX(1.0661);-webkit-text-stroke:1.01px #1d2433;">Test</span>
<span style="left:1147.20px;top:146.69px;font-size:61.73px;line-height:74px;font-weight:bold;color:#1d2433;transform:scaleX(1.0991);-webkit-text-stroke:1.01px #1d2433;">(MCAT)</span>
<span style="left:244.93px;top:289.72px;font-size:46.49px;line-height:56px;font-weight:bold;color:#1d2433;transform:scaleX(1.0733);-webkit-text-stroke:0.76px #1d2433;">JAN</span>
<span style="left:130.00px;top:355.03px;font-size:15.18px;line-height:18px;font-weight:bold;color:#1d2433;transform:scaleX(1.0936);-webkit-text-stroke:0.15px #1d2433;">SUN</span>
<span style="left:177.61px;top:355.03px;font-size:15.18px;line-height:18px;font-weight:bold;color:#1d2433;transform:scaleX(1.1603);-webkit-text-stroke:0.15px #1d2433;">MON</span>
<span style="left:234.21px;top:355.03px;font-size:15.18px;line-height:18px;font-weight:bold;color:#1d2433;transform:scaleX(1.0584);-webkit-text-stroke:0.15px #1d2433;">TUE</span>
<span style="left:282.68px;top:355.03px;font-size:15.18px;line-height:18px;font-weight:bold;color:#1d2433;transform:scaleX(1.1422);-webkit-text-stroke:0.15px #1d2433;">WED</span>
<span style="left:334.91px;top:355.03px;font-size:15.18px;line-height:18px;font-weight:bold;color:#1d2433;transform:scaleX(1.1141);-webkit-text-stroke:0.15px #1d2433;">THU</span>
<span style="left:390.35px;top:355.03px;font-size:15.18px;line-height:18px;font-weight:bold;color:#1d2433;transform:scaleX(1.1169);-webkit-text-stroke:0.15px #1d2433;">FRI</span>
<span style="left:439.12px;top:355.03px;font-size:15.18px;line-height:18px;font-weight:bold;color:#1d2433;transform:scaleX(1.0488);-webkit-text-stroke:0.15px #1d2433;">SAT</span>
<span style="left:196.30px;top:386.06px;font-size:17.09px;line-height:21px;font-weight:bold;color:#1d2433;transform:scaleX(1.1909);-webkit-text-stroke:0.28px #1d2433;">2</span>
<span style="left:246.55px;top:386.06px;font-size:17.09px;line-height:21px;font-weight:bold;color:#1d2433;transform:scaleX(1.1521);-webkit-text-stroke:0.28px #1d2433;">3</span>
<span style="left:297.46px;top:386.06px;font-size:17.09px;line-height:21px;font-weight:bold;color:#1d2433;transform:scaleX(1.3007);-webkit-text-stroke:0.28px #1d2433;">4</span>
<span style="left:347.61px;top:386.06px;font-size:17.09px;line-height:21px;font-weight:bold;color:#1d2433;transform:scaleX(1.1404);-webkit-text-stroke:0.28px #1d2433;">5</span>
<span style="left:397.72px;top:386.06px;font-size:17.09px;line-height:21px;font-weight:bold;color:#1d2433;transform:scaleX(1.2451);-webkit-text-stroke:0.28px #1d2433;">6</span>
<span style="left:447.56px;top:386.06px;font-size:17.09px;line-height:21px;font-weight:bold;color:#1d2433;transform:scaleX(1.2848);-webkit-text-stroke:0.28px #1d2433;">7</span>
<span style="left:145.81px;top:427.41px;font-size:17.09px;line-height:21px;font-weight:bold;color:#1d2433;transform:scaleX(1.2672);-webkit-text-stroke:0.28px #1d2433;">8</span>
<span style="left:196.27px;top:427.41px;font-size:17.09px;line-height:21px;font-weight:bold;color:#1d2433;transform:scaleX(1.2419);-webkit-text-stroke:0.28px #1d2433;">9</span>
<span style="left:253.36px;top:427.41px;font-size:17.09px;line-height:21px;font-weight:bold;color:#1d2433;transform:scaleX(1.3259);-webkit-text-stroke:0.28px #1d2433;">0</span>
<span style="left:354.75px;top:427.41px;font-size:17.09px;line-height:21px;font-weight:bold;color:#1d2433;transform:scaleX(1.1909);-webkit-text-stroke:0.28px #1d2433;">2</span>
<span style="left:405.30px;top:427.41px;font-size:17.09px;line-height:21px;font-weight:bold;color:#1d2433;transform:scaleX(1.1521);-webkit-text-stroke:0.28px #1d2433;">3</span>
<span style="left:454.91px;top:427.41px;font-size:17.09px;line-height:21px;font-weight:bold;color:#1d2433;transform:scaleX(1.3007);-webkit-text-stroke:0.28px #1d2433;">4</span>
<span style="left:153.16px;top:468.76px;font-size:17.09px;line-height:21px;font-weight:bold;color:#1d2433;transform:scaleX(1.1404);-webkit-text-stroke:0.28px #1d2433;">5</span>
<span style="left:203.47px;top:468.76px;font-size:17.09px;line-height:21px;font-weight:bold;color:#1d2433;transform:scaleX(1.2451);-webkit-text-stroke:0.28px #1d2433;">6</span>
<span style="left:252.81px;top:468.76px;font-size:17.09px;line-height:21px;font-weight:bold;color:#1d2433;transform:scaleX(1.2848);-webkit-text-stroke:0.28px #1d2433;">7</span>
<span style="left:304.36px;top:468.76px;font-size:17.09px;line-height:21px;font-weight:bold;color:#1d2433;transform:scaleX(1.2672);-webkit-text-stroke:0.28px #1d2433;">8</span>
<span style="left:354.72px;top:468.76px;font-size:17.09px;line-height:21px;font-weight:bold;color:#1d2433;transform:scaleX(1.2419);-webkit-text-stroke:0.28px #1d2433;">9</span>
<span style="left:397.80px;top:468.76px;font-size:17.09px;line-height:21px;font-weight:bold;color:#1d2433;transform:scaleX(1.1909);-webkit-text-stroke:0.28px #1d2433;">2</span>
<span style="left:408.41px;top:468.76px;font-size:17.09px;line-height:21px;font-weight:bold;color:#1d2433;transform:scaleX(1.3259);-webkit-text-stroke:0.28px #1d2433;">0</span>
<span style="left:447.80px;top:468.76px;font-size:17.09px;line-height:21px;font-weight:bold;color:#1d2433;transform:scaleX(1.1909);-webkit-text-stroke:0.28px #1d2433;">2</span>
<span style="left:145.80px;top:510.11px;font-size:17.09px;line-height:21px;font-weight:bold;color:#1d2433;transform:scaleX(1.1909);-webkit-text-stroke:0.28px #1d2433;">2</span>
<span style="left:156.60px;top:510.11px;font-size:17.09px;line-height:21px;font-weight:bold;color:#1d2433;transform:scaleX(1.1909);-webkit-text-stroke:0.28px #1d2433;">2</span>
<span style="left:196.30px;top:510.11px;font-size:17.09px;line-height:21px;font-weight:bold;color:#1d2433;transform:scaleX(1.1909);-webkit-text-stroke:0.28px #1d2433;">2</span>
<span style="left:207.35px;top:510.11px;font-size:17.09px;line-height:21px;font-weight:bold;color:#1d2433;transform:scaleX(1.1521);-webkit-text-stroke:0.28px #1d2433;">3</span>
<span style="left:246.30px;top:510.11px;font-size:17.09px;line-height:21px;font-weight:bold;color:#1d2433;transform:scaleX(1.1909);-webkit-text-stroke:0.28px #1d2433;">2</span>
<span style="left:257.46px;top:510.11px;font-size:17.09px;line-height:21px;font-weight:bold;color:#1d2433;transform:scaleX(1.3007);-webkit-text-stroke:0.28px #1d2433;">4</span>
<span style="left:297.10px;top:510.11px;font-size:17.09px;line-height:21px;font-weight:bold;color:#1d2433;transform:scaleX(1.1909);-webkit-text-stroke:0.28px #1d2433;">2</span>
<span style="left:308.01px;top:510.11px;font-size:17.09px;line-height:21px;font-weight:bold;color:#1d2433;transform:scaleX(1.1404);-webkit-text-stroke:0.28px #1d2433;">5</span>
<span style="left:347.50px;top:510.11px;font-size:17.09px;line-height:21px;font-weight:bold;color:#1d2433;transform:scaleX(1.1909);-webkit-text-stroke:0.28px #1d2433;">2</span>
<span style="left:358.22px;top:510.11px;font-size:17.09px;line-height:21px;font-weight:bold;color:#1d2433;transform:scaleX(1.2451);-webkit-text-stroke:0.28px #1d2433;">6</span>
<span style="left:397.80px;top:510.11px;font-size:17.09px;line-height:21px;font-weight:bold;color:#1d2433;transform:scaleX(1.1909);-webkit-text-stroke:0.28px #1d2433;">2</span>
<span style="left:408.36px;top:510.11px;font-size:17.09px;line-height:21px;font-weight:bold;color:#1d2433;transform:scaleX(1.2848);-webkit-text-stroke:0.28px #1d2433;">7</span>
<span style="left:447.80px;top:510.11px;font-size:17.09px;line-height:21px;font-weight:bold;color:#1d2433;transform:scaleX(1.1909);-webkit-text-stroke:0.28px #1d2433;">2</span>
<span style="left:458.61px;top:510.11px;font-size:17.09px;line-height:21px;font-weight:bold;color:#1d2433;transform:scaleX(1.2672);-webkit-text-stroke:0.28px #1d2433;">8</span>
<span style="left:145.80px;top:551.46px;font-size:17.09px;line-height:21px;font-weight:bold;color:#1d2433;transform:scaleX(1.1909);-webkit-text-stroke:0.28px #1d2433;">2</span>
<span style="left:156.57px;top:551.46px;font-size:17.09px;line-height:21px;font-weight:bold;color:#1d2433;transform:scaleX(1.2419);-webkit-text-stroke:0.28px #1d2433;">9</span>
<span style="left:196.55px;top:551.46px;font-size:17.09px;line-height:21px;font-weight:bold;color:#1d2433;transform:scaleX(1.1521);-webkit-text-stroke:0.28px #1d2433;">3</span>
<span style="left:206.91px;top:551.46px;font-size:17.09px;line-height:21px;font-weight:bold;color:#1d2433;transform:scaleX(1.3259);-webkit-text-stroke:0.28px #1d2433;">0</span>
<span style="left:246.55px;top:551.46px;font-size:17.09px;line-height:21px;font-weight:bold;color:#1d2433;transform:scaleX(1.1521);-webkit-text-stroke:0.28px #1d2433;">3</span>
<span style="left:658.13px;top:289.72px;font-size:46.49px;line-height:56px;font-weight:bold;color:#1d2433;transform:scaleX(1.0539);-webkit-text-stroke:0.76px #1d2433;">FEB</span>
<span style="left:533.90px;top:355.03px;font-size:15.18px;line-height:18px;font-weight:bold;color:#1d2433;transform:scaleX(1.0936);-webkit-text-stroke:0.15px #1d2433;">SUN</span>
<span style="left:581.51px;top:355.03px;font-size:15.18px;line-height:18px;font-weight:bold;color:#1d2433;transform:scaleX(1.1603);-webkit-text-stroke:0.15px #1d2433;">MON</span>
<span style="left:638.11px;top:355.03px;font-size:15.18px;line-height:18px;font-weight:bold;color:#1d2433;transform:scaleX(1.0584);-webkit-text-stroke:0.15px #1d2433;">TUE</span>
<span style="left:686.58px;top:355.03px;font-size:15.18px;line-height:18px;font-weight:bold;color:#1d2433;transform:scaleX(1.1422);-webkit-text-stroke:0.15px #1d2433;">WED</span>
<span style="left:738.81px;top:355.03px;font-size:15.18px;line-height:18px;font-weight:bold;color:#1d2433;transform:scaleX(1.1141);-webkit-text-stroke:0.15px #1d2433;">THU</span>
<span style="left:794.25px;top:355.03px;font-size:15.18px;line-height:18px;font-weight:bold;color:#1d2433;transform:scaleX(1.1169);-webkit-text-stroke:0.15px #1d2433;">FRI</span>
<span style="left:843.02px;top:355.03px;font-size:15.18px;line-height:18px;font-weight:bold;color:#1d2433;transform:scaleX(1.0488);-webkit-text-stroke:0.15px #1d2433;">SAT</span>
<span style="left:755.20px;top:384.96px;font-size:17.09px;line-height:21px;font-weight:bold;color:#1d2433;transform:scaleX(1.1909);-webkit-text-stroke:0.28px #1d2433;">2</span>
<span style="left:806.05px;top:384.96px;font-size:17.09px;line-height:21px;font-weight:bold;color:#1d2433;transform:scaleX(1.1521);-webkit-text-stroke:0.28px #1d2433;">3</span>
<span style="left:856.76px;top:384.96px;font-size:17.09px;line-height:21px;font-weight:bold;color:#1d2433;transform:scaleX(1.3007);-webkit-text-stroke:0.28px #1d2433;">4</span>
<span style="left:551.21px;top:427.06px;font-size:17.09px;line-height:21px;font-weight:bold;color:#1d2433;transform:scaleX(1.1404);-webkit-text-stroke:0.28px #1d2433;">5</span>
<span style="left:601.72px;top:427.06px;font-size:17.09px;line-height:21px;font-weight:bold;color:#1d2433;transform:scaleX(1.2451);-webkit-text-stroke:0.28px #1d2433;">6</span>
<span style="left:652.56px;top:427.06px;font-size:17.09px;line-height:21px;font-weight:bold;color:#1d2433;transform:scaleX(1.2848);-webkit-text-stroke:0.28px #1d2433;">7</span>
<span style="left:704.21px;top:427.06px;font-size:17.09px;line-height:21px;font-weight:bold;color:#1d2433;transform:scaleX(1.2672);-webkit-text-stroke:0.28px #1d2433;">8</span>
<span style="left:755.17px;top:427.06px;font-size:17.09px;line-height:21px;font-weight:bold;color:#1d2433;transform:scaleX(1.2419);-webkit-text-stroke:0.28px #1d2433;">9</span>
<span style="left:812.86px;top:427.06px;font-size:17.09px;line-height:21px;font-weight:bold;color:#1d2433;transform:scaleX(1.3259);-webkit-text-stroke:0.28px #1d2433;">0</span>
<span style="left:558.35px;top:468.66px;font-size:17.09px;line-height:21px;font-weight:bold;color:#1d2433;transform:scaleX(1.1909);-webkit-text-stroke:0.28px #1d2433;">2</span>
<span style="left:609.30px;top:468.66px;font-size:17.09px;line-height:21px;font-weight:bold;color:#1d2433;transform:scaleX(1.1521);-webkit-text-stroke:0.28px #1d2433;">3</span>
<span style="left:659.91px;top:468.66px;font-size:17.09px;line-height:21px;font-weight:bold;color:#1d2433;transform:scaleX(1.3007);-webkit-text-stroke:0.28px #1d2433;">4</span>
<span style="left:711.56px;top:468.66px;font-size:17.09px;line-height:21px;font-weight:bold;color:#1d2433;transform:scaleX(1.1404);-webkit-text-stroke:0.28px #1d2433;">5</span>
<span style="left:762.37px;top:468.66px;font-size:17.09px;line-height:21px;font-weight:bold;color:#1d2433;transform:scaleX(1.2451);-webkit-text-stroke:0.28px #1d2433;">6</span>
<span style="left:812.31px;top:468.66px;font-size:17.09px;line-height:21px;font-weight:bold;color:#1d2433;transform:scaleX(1.2848);-webkit-text-stroke:0.28px #1d2433;">7</span>
<span style="left:863.66px;top:468.66px;font-size:17.09px;line-height:21px;font-weight:bold;color:#1d2433;transform:scaleX(1.2672);-webkit-text-stroke:0.28px #1d2433;">8</span>
<span style="left:558.32px;top:510.86px;font-size:17.09px;line-height:21px;font-weight:bold;color:#1d2433;transform:scaleX(1.2419);-webkit-text-stroke:0.28px #1d2433;">9</span>
<span style="left:601.80px;top:510.86px;font-size:17.09px;line-height:21px;font-weight:bold;color:#1d2433;transform:scaleX(1.1909);-webkit-text-stroke:0.28px #1d2433;">2</span>
<span style="left:612.41px;top:510.86px;font-size:17.09px;line-height:21px;font-weight:bold;color:#1d2433;transform:scaleX(1.3259);-webkit-text-stroke:0.28px #1d2433;">0</span>
<span style="left:652.80px;top:510.86px;font-size:17.09px;line-height:21px;font-weight:bold;color:#1d2433;transform:scaleX(1.1909);-webkit-text-stroke:0.28px #1d2433;">2</span>
<span style="left:704.20px;top:510.86px;font-size:17.09px;line-height:21px;font-weight:bold;color:#1d2433;transform:scaleX(1.1909);-webkit-text-stroke:0.28px #1d2433;">2</span>
<span style="left:715.00px;top:510.86px;font-size:17.09px;line-height:21px;font-weight:bold;color:#1d2433;transform:scaleX(1.1909);-webkit-text-stroke:0.28px #1d2433;">2</span>
<span style="left:755.20px;top:510.86px;font-size:17.09px;line-height:21px;font-weight:bold;color:#1d2433;transform:scaleX(1.1909);-webkit-text-stroke:0.28px #1d2433;">2</span>
<span style="left:766.25px;top:510.86px;font-size:17.09px;line-height:21px;font-weight:bold;color:#1d2433;transform:scaleX(1.1521);-webkit-text-stroke:0.28px #1d2433;">3</span>
<span style="left:805.80px;top:510.86px;font-size:17.09px;line-height:21px;font-weight:bold;color:#1d2433;transform:scaleX(1.1909);-webkit-text-stroke:0.28px #1d2433;">2</span>
<span style="left:816.96px;top:510.86px;font-size:17.09px;line-height:21px;font-weight:bold;color:#1d2433;transform:scaleX(1.3007);-webkit-text-stroke:0.28px #1d2433;">4</span>
<span style="left:856.40px;top:510.86px;font-size:17.09px;line-height:21px;font-weight:bold;color:#1d2433;transform:scaleX(1.1909);-webkit-text-stroke:0.28px #1d2433;">2</span>
<span style="left:867.31px;top:510.86px;font-size:17.09px;line-height:21px;font-weight:bold;color:#1d2433;transform:scaleX(1.1404);-webkit-text-stroke:0.28px #1d2433;">5</span>
<span style="left:551.10px;top:552.86px;font-size:17.09px;line-height:21px;font-weight:bold;color:#1d2433;transform:scaleX(1.1909);-webkit-text-stroke:0.28px #1d2433;">2</span>
<span style="left:561.82px;top:552.86px;font-size:17.09px;line-height:21px;font-weight:bold;color:#1d2433;transform:scaleX(1.2451);-webkit-text-stroke:0.28px #1d2433;">6</span>
<span style="left:601.80px;top:552.86px;font-size:17.09px;line-height:21px;font-weight:bold;color:#1d2433;transform:scaleX(1.1909);-webkit-text-stroke:0.28px #1d2433;">2</span>
<span style="left:612.36px;top:552.86px;font-size:17.09px;line-height:21px;font-weight:bold;color:#1d2433;transform:scaleX(1.2848);-webkit-text-stroke:0.28px #1d2433;">7</span>
<span style="left:652.80px;top:552.86px;font-size:17.09px;line-height:21px;font-weight:bold;color:#1d2433;transform:scaleX(1.1909);-webkit-text-stroke:0.28px #1d2433;">2</span>
<span style="left:663.61px;top:552.86px;font-size:17.09px;line-height:21px;font-weight:bold;color:#1d2433;transform:scaleX(1.2672);-webkit-text-stroke:0.28px #1d2433;">8</span>
<span style="left:1056.34px;top:289.72px;font-size:46.49px;line-height:56px;font-weight:bold;color:#1d2433;transform:scaleX(1.0851);-webkit-text-stroke:0.76px #1d2433;">MAR</span>
<span style="left:944.60px;top:355.03px;font-size:15.18px;line-height:18px;font-weight:bold;color:#1d2433;transform:scaleX(1.0936);-webkit-text-stroke:0.15px #1d2433;">SUN</span>
<span style="left:992.21px;top:355.03px;font-size:15.18px;line-height:18px;font-weight:bold;color:#1d2433;transform:scaleX(1.1603);-webkit-text-stroke:0.15px #1d2433;">MON</span>
<span style="left:1048.81px;top:355.03px;font-size:15.18px;line-height:18px;font-weight:bold;color:#1d2433;transform:scaleX(1.0584);-webkit-text-stroke:0.15px #1d2433;">TUE</span>
<span style="left:1097.28px;top:355.03px;font-size:15.18px;line-height:18px;font-weight:bold;color:#1d2433;transform:scaleX(1.1422);-webkit-text-stroke:0.15px #1d2433;">WED</span>
<span style="left:1149.51px;top:355.03px;font-size:15.18px;line-height:18px;font-weight:bold;color:#1d2433;transform:scaleX(1.1141);-webkit-text-stroke:0.15px #1d2433;">THU</span>
<span style="left:1204.95px;top:355.03px;font-size:15.18px;line-height:18px;font-weight:bold;color:#1d2433;transform:scaleX(1.1169);-webkit-text-stroke:0.15px #1d2433;">FRI</span>
<span style="left:1253.72px;top:355.03px;font-size:15.18px;line-height:18px;font-weight:bold;color:#1d2433;transform:scaleX(1.0488);-webkit-text-stroke:0.15px #1d2433;">SAT</span>
<span style="left:1161.00px;top:386.66px;font-size:17.09px;line-height:21px;font-weight:bold;color:#1d2433;transform:scaleX(1.1909);-webkit-text-stroke:0.28px #1d2433;">2</span>
<span style="left:1212.05px;top:386.66px;font-size:17.09px;line-height:21px;font-weight:bold;color:#1d2433;transform:scaleX(1.1521);-webkit-text-stroke:0.28px #1d2433;">3</span>
<span style="left:1263.16px;top:386.66px;font-size:17.09px;line-height:21px;font-weight:bold;color:#1d2433;transform:scaleX(1.3007);-webkit-text-stroke:0.28px #1d2433;">4</span>
<span style="left:956.91px;top:428.66px;font-size:17.09px;line-height:21px;font-weight:bold;color:#1d2433;transform:scaleX(1.1404);-webkit-text-stroke:0.28px #1d2433;">5</span>
<span style="left:1008.02px;top:428.66px;font-size:17.09px;line-height:21px;font-weight:bold;color:#1d2433;transform:scaleX(1.2451);-webkit-text-stroke:0.28px #1d2433;">6</span>
<span style="left:1058.86px;top:428.66px;font-size:17.09px;line-height:21px;font-weight:bold;color:#1d2433;transform:scaleX(1.2848);-webkit-text-stroke:0.28px #1d2433;">7</span>
<span style="left:1110.21px;top:428.66px;font-size:17.09px;line-height:21px;font-weight:bold;color:#1d2433;transform:scaleX(1.2672);-webkit-text-stroke:0.28px #1d2433;">8</span>
<span style="left:1160.97px;top:428.66px;font-size:17.09px;line-height:21px;font-weight:bold;color:#1d2433;transform:scaleX(1.2419);-webkit-text-stroke:0.28px #1d2433;">9</span>
<span style="left:1218.86px;top:428.66px;font-size:17.09px;line-height:21px;font-weight:bold;color:#1d2433;transform:scaleX(1.3259);-webkit-text-stroke:0.28px #1d2433;">0</span>
<span style="left:964.05px;top:470.66px;font-size:17.09px;line-height:21px;font-weight:bold;color:#1d2433;transform:scaleX(1.1909);-webkit-text-stroke:0.28px #1d2433;">2</span>
<span style="left:1015.60px;top:470.66px;font-size:17.09px;line-height:21px;font-weight:bold;color:#1d2433;transform:scaleX(1.1521);-webkit-text-stroke:0.28px #1d2433;">3</span>
<span style="left:1066.21px;top:470.66px;font-size:17.09px;line-height:21px;font-weight:bold;color:#1d2433;transform:scaleX(1.3007);-webkit-text-stroke:0.28px #1d2433;">4</span>
<span style="left:1117.56px;top:470.66px;font-size:17.09px;line-height:21px;font-weight:bold;color:#1d2433;transform:scaleX(1.1404);-webkit-text-stroke:0.28px #1d2433;">5</span>
<span style="left:1168.17px;top:470.66px;font-size:17.09px;line-height:21px;font-weight:bold;color:#1d2433;transform:scaleX(1.2451);-webkit-text-stroke:0.28px #1d2433;">6</span>
<span style="left:1218.31px;top:470.66px;font-size:17.09px;line-height:21px;font-weight:bold;color:#1d2433;transform:scaleX(1.2848);-webkit-text-stroke:0.28px #1d2433;">7</span>
<span style="left:1270.06px;top:470.66px;font-size:17.09px;line-height:21px;font-weight:bold;color:#1d2433;transform:scaleX(1.2672);-webkit-text-stroke:0.28px #1d2433;">8</span>
<span style="left:964.02px;top:512.66px;font-size:17.09px;line-height:21px;font-weight:bold;color:#1d2433;transform:scaleX(1.2419);-webkit-text-stroke:0.28px #1d2433;">9</span>
<span style="left:1008.10px;top:512.66px;font-size:17.09px;line-height:21px;font-weight:bold;color:#1d2433;transform:scaleX(1.1909);-webkit-text-stroke:0.28px #1d2433;">2</span>
<span style="left:1018.71px;top:512.66px;font-size:17.09px;line-height:21px;font-weight:bold;color:#1d2433;transform:scaleX(1.3259);-webkit-text-stroke:0.28px #1d2433;">0</span>
<span style="left:1059.10px;top:512.66px;font-size:17.09px;line-height:21px;font-weight:bold;color:#1d2433;transform:scaleX(1.1909);-webkit-text-stroke:0.28px #1d2433;">2</span>
<span style="left:1110.20px;top:512.66px;font-size:17.09px;line-height:21px;font-weight:bold;color:#1d2433;transform:scaleX(1.1909);-webkit-text-stroke:0.28px #1d2433;">2</span>
<span style="left:1121.00px;top:512.66px;font-size:17.09px;line-height:21px;font-weight:bold;color:#1d2433;transform:scaleX(1.1909);-webkit-text-stroke:0.28px #1d2433;">2</span>
<span style="left:1161.00px;top:512.66px;font-size:17.09px;line-height:21px;font-weight:bold;color:#1d2433;transform:scaleX(1.1909);-webkit-text-stroke:0.28px #1d2433;">2</span>
<span style="left:1172.05px;top:512.66px;font-size:17.09px;line-height:21px;font-weight:bold;color:#1d2433;transform:scaleX(1.1521);-webkit-text-stroke:0.28px #1d2433;">3</span>
<span style="left:1211.80px;top:512.66px;font-size:17.09px;line-height:21px;font-weight:bold;color:#1d2433;transform:scaleX(1.1909);-webkit-text-stroke:0.28px #1d2433;">2</span>
<span style="left:1222.96px;top:512.66px;font-size:17.09px;line-height:21px;font-weight:bold;color:#1d2433;transform:scaleX(1.3007);-webkit-text-stroke:0.28px #1d2433;">4</span>
<span style="left:1262.80px;top:512.66px;font-size:17.09px;line-height:21px;font-weight:bold;color:#1d2433;transform:scaleX(1.1909);-webkit-text-stroke:0.28px #1d2433;">2</span>
<span style="left:1273.71px;top:512.66px;font-size:17.09px;line-height:21px;font-weight:bold;color:#1d2433;transform:scaleX(1.1404);-webkit-text-stroke:0.28px #1d2433;">5</span>
<span style="left:956.80px;top:554.46px;font-size:17.09px;line-height:21px;font-weight:bold;color:#1d2433;transform:scaleX(1.1909);-webkit-text-stroke:0.28px #1d2433;">2</span>
<span style="left:967.52px;top:554.46px;font-size:17.09px;line-height:21px;font-weight:bold;color:#1d2433;transform:scaleX(1.2451);-webkit-text-stroke:0.28px #1d2433;">6</span>
<span style="left:1008.10px;top:554.46px;font-size:17.09px;line-height:21px;font-weight:bold;color:#1d2433;transform:scaleX(1.1909);-webkit-text-stroke:0.28px #1d2433;">2</span>
<span style="left:1018.66px;top:554.46px;font-size:17.09px;line-height:21px;font-weight:bold;color:#1d2433;transform:scaleX(1.2848);-webkit-text-stroke:0.28px #1d2433;">7</span>
<span style="left:1059.10px;top:554.46px;font-size:17.09px;line-height:21px;font-weight:bold;color:#1d2433;transform:scaleX(1.1909);-webkit-text-stroke:0.28px #1d2433;">2</span>
<span style="left:1069.91px;top:554.46px;font-size:17.09px;line-height:21px;font-weight:bold;color:#1d2433;transform:scaleX(1.2672);-webkit-text-stroke:0.28px #1d2433;">8</span>
<span style="left:1110.20px;top:554.46px;font-size:17.09px;line-height:21px;font-weight:bold;color:#1d2433;transform:scaleX(1.1909);-webkit-text-stroke:0.28px #1d2433;">2</span>
<span style="left:1120.97px;top:554.46px;font-size:17.09px;line-height:21px;font-weight:bold;color:#1d2433;transform:scaleX(1.2419);-webkit-text-stroke:0.28px #1d2433;">9</span>
<span style="left:1161.25px;top:554.46px;font-size:17.09px;line-height:21px;font-weight:bold;color:#1d2433;transform:scaleX(1.1521);-webkit-text-stroke:0.28px #1d2433;">3</span>
<span style="left:1171.61px;top:554.46px;font-size:17.09px;line-height:21px;font-weight:bold;color:#1d2433;transform:scaleX(1.3259);-webkit-text-stroke:0.28px #1d2433;">0</span>
<span style="left:1212.05px;top:554.46px;font-size:17.09px;line-height:21px;font-weight:bold;color:#1d2433;transform:scaleX(1.1521);-webkit-text-stroke:0.28px #1d2433;">3</span>
<span style="left:238.39px;top:623.52px;font-size:46.49px;line-height:56px;font-weight:bold;color:#1d2433;transform:scaleX(1.0772);-webkit-text-stroke:0.76px #1d2433;">APR</span>
<span style="left:123.70px;top:688.92px;font-size:15.18px;line-height:18px;font-weight:bold;color:#1d2433;transform:scaleX(1.0936);-webkit-text-stroke:0.15px #1d2433;">SUN</span>
<span style="left:171.31px;top:688.92px;font-size:15.18px;line-height:18px;font-weight:bold;color:#1d2433;transform:scaleX(1.1603);-webkit-text-stroke:0.15px #1d2433;">MON</span>
<span style="left:227.91px;top:688.92px;font-size:15.18px;line-height:18px;font-weight:bold;color:#1d2433;transform:scaleX(1.0584);-webkit-text-stroke:0.15px #1d2433;">TUE</span>
<span style="left:276.37px;top:688.92px;font-size:15.18px;line-height:18px;font-weight:bold;color:#1d2433;transform:scaleX(1.1422);-webkit-text-stroke:0.15px #1d2433;">WED</span>
<span style="left:328.61px;top:688.92px;font-size:15.18px;line-height:18px;font-weight:bold;color:#1d2433;transform:scaleX(1.1141);-webkit-text-stroke:0.15px #1d2433;">THU</span>
<span style="left:384.05px;top:688.92px;font-size:15.18px;line-height:18px;font-weight:bold;color:#1d2433;transform:scaleX(1.1169);-webkit-text-stroke:0.15px #1d2433;">FRI</span>
<span style="left:432.82px;top:688.92px;font-size:15.18px;line-height:18px;font-weight:bold;color:#1d2433;transform:scaleX(1.0488);-webkit-text-stroke:0.15px #1d2433;">SAT</span>
<span style="left:136.90px;top:751.46px;font-size:17.09px;line-height:21px;font-weight:bold;color:#1d2433;transform:scaleX(1.1909);-webkit-text-stroke:0.28px #1d2433;">2</span>
<span style="left:186.75px;top:751.46px;font-size:17.09px;line-height:21px;font-weight:bold;color:#1d2433;transform:scaleX(1.1521);-webkit-text-stroke:0.28px #1d2433;">3</span>
<span style="left:238.66px;top:751.46px;font-size:17.09px;line-height:21px;font-weight:bold;color:#1d2433;transform:scaleX(1.3007);-webkit-text-stroke:0.28px #1d2433;">4</span>
<span style="left:293.01px;top:751.46px;font-size:17.09px;line-height:21px;font-weight:bold;color:#1d2433;transform:scaleX(1.1404);-webkit-text-stroke:0.28px #1d2433;">5</span>
<span style="left:339.72px;top:751.46px;font-size:17.09px;line-height:21px;font-weight:bold;color:#1d2433;transform:scaleX(1.2451);-webkit-text-stroke:0.28px #1d2433;">6</span>
<span style="left:393.96px;top:751.46px;font-size:17.09px;line-height:21px;font-weight:bold;color:#1d2433;transform:scaleX(1.2848);-webkit-text-stroke:0.28px #1d2433;">7</span>
<span style="left:446.21px;top:751.46px;font-size:17.09px;line-height:21px;font-weight:bold;color:#1d2433;transform:scaleX(1.2672);-webkit-text-stroke:0.28px #1d2433;">8</span>
<span style="left:136.87px;top:785.66px;font-size:17.09px;line-height:21px;font-weight:bold;color:#1d2433;transform:scaleX(1.2419);-webkit-text-stroke:0.28px #1d2433;">9</span>
<span style="left:193.56px;top:785.66px;font-size:17.09px;line-height:21px;font-weight:bold;color:#1d2433;transform:scaleX(1.3259);-webkit-text-stroke:0.28px #1d2433;">0</span>
<span style="left:300.15px;top:785.66px;font-size:17.09px;line-height:21px;font-weight:bold;color:#1d2433;transform:scaleX(1.1909);-webkit-text-stroke:0.28px #1d2433;">2</span>
<span style="left:347.30px;top:785.66px;font-size:17.09px;line-height:21px;font-weight:bold;color:#1d2433;transform:scaleX(1.1521);-webkit-text-stroke:0.28px #1d2433;">3</span>
<span style="left:401.31px;top:785.66px;font-size:17.09px;line-height:21px;font-weight:bold;color:#1d2433;transform:scaleX(1.3007);-webkit-text-stroke:0.28px #1d2433;">4</span>
<span style="left:453.56px;top:785.66px;font-size:17.09px;line-height:21px;font-weight:bold;color:#1d2433;transform:scaleX(1.1404);-webkit-text-stroke:0.28px #1d2433;">5</span>
<span style="left:144.07px;top:820.26px;font-size:17.09px;line-height:21px;font-weight:bold;color:#1d2433;transform:scaleX(1.2451);-webkit-text-stroke:0.28px #1d2433;">6</span>
<span style="left:193.01px;top:820.26px;font-size:17.09px;line-height:21px;font-weight:bold;color:#1d2433;transform:scaleX(1.2848);-webkit-text-stroke:0.28px #1d2433;">7</span>
<span style="left:245.56px;top:820.26px;font-size:17.09px;line-height:21px;font-weight:bold;color:#1d2433;transform:scaleX(1.2672);-webkit-text-stroke:0.28px #1d2433;">8</span>
<span style="left:300.12px;top:820.26px;font-size:17.09px;line-height:21px;font-weight:bold;color:#1d2433;transform:scaleX(1.2419);-webkit-text-stroke:0.28px #1d2433;">9</span>
<span style="left:339.80px;top:820.26px;font-size:17.09px;line-height:21px;font-weight:bold;color:#1d2433;transform:scaleX(1.1909);-webkit-text-stroke:0.28px #1d2433;">2</span>
<span style="left:350.41px;top:820.26px;font-size:17.09px;line-height:21px;font-weight:bold;color:#1d2433;transform:scaleX(1.3259);-webkit-text-stroke:0.28px #1d2433;">0</span>
<span style="left:394.20px;top:820.26px;font-size:17.09px;line-height:21px;font-weight:bold;color:#1d2433;transform:scaleX(1.1909);-webkit-text-stroke:0.28px #1d2433;">2</span>
<span style="left:446.20px;top:820.26px;font-size:17.09px;line-height:21px;font-weight:bold;color:#1d2433;transform:scaleX(1.1909);-webkit-text-stroke:0.28px #1d2433;">2</span>
<span style="left:457.00px;top:820.26px;font-size:17.09px;line-height:21px;font-weight:bold;color:#1d2433;transform:scaleX(1.1909);-webkit-text-stroke:0.28px #1d2433;">2</span>
<span style="left:136.90px;top:854.96px;font-size:17.09px;line-height:21px;font-weight:bold;color:#1d2433;transform:scaleX(1.1909);-webkit-text-stroke:0.28px #1d2433;">2</span>
<span style="left:147.95px;top:854.96px;font-size:17.09px;line-height:21px;font-weight:bold;color:#1d2433;transform:scaleX(1.1521);-webkit-text-stroke:0.28px #1d2433;">3</span>
<span style="left:186.50px;top:854.96px;font-size:17.09px;line-height:21px;font-weight:bold;color:#1d2433;transform:scaleX(1.1909);-webkit-text-stroke:0.28px #1d2433;">2</span>
<span style="left:197.66px;top:854.96px;font-size:17.09px;line-height:21px;font-weight:bold;color:#1d2433;transform:scaleX(1.3007);-webkit-text-stroke:0.28px #1d2433;">4</span>
<span style="left:238.30px;top:854.96px;font-size:17.09px;line-height:21px;font-weight:bold;color:#1d2433;transform:scaleX(1.1909);-webkit-text-stroke:0.28px #1d2433;">2</span>
<span style="left:249.21px;top:854.96px;font-size:17.09px;line-height:21px;font-weight:bold;color:#1d2433;transform:scaleX(1.1404);-webkit-text-stroke:0.28px #1d2433;">5</span>
<span style="left:292.90px;top:854.96px;font-size:17.09px;line-height:21px;font-weight:bold;color:#1d2433;transform:scaleX(1.1909);-webkit-text-stroke:0.28px #1d2433;">2</span>
<span style="left:303.62px;top:854.96px;font-size:17.09px;line-height:21px;font-weight:bold;color:#1d2433;transform:scaleX(1.2451);-webkit-text-stroke:0.28px #1d2433;">6</span>
<span style="left:339.80px;top:854.96px;font-size:17.09px;line-height:21px;font-weight:bold;color:#1d2433;transform:scaleX(1.1909);-webkit-text-stroke:0.28px #1d2433;">2</span>
<span style="left:350.36px;top:854.96px;font-size:17.09px;line-height:21px;font-weight:bold;color:#1d2433;transform:scaleX(1.2848);-webkit-text-stroke:0.28px #1d2433;">7</span>
<span style="left:394.20px;top:854.96px;font-size:17.09px;line-height:21px;font-weight:bold;color:#1d2433;transform:scaleX(1.1909);-webkit-text-stroke:0.28px #1d2433;">2</span>
<span style="left:405.01px;top:854.96px;font-size:17.09px;line-height:21px;font-weight:bold;color:#1d2433;transform:scaleX(1.2672);-webkit-text-stroke:0.28px #1d2433;">8</span>
<span style="left:446.20px;top:854.96px;font-size:17.09px;line-height:21px;font-weight:bold;color:#1d2433;transform:scaleX(1.1909);-webkit-text-stroke:0.28px #1d2433;">2</span>
<span style="left:456.97px;top:854.96px;font-size:17.09px;line-height:21px;font-weight:bold;color:#1d2433;transform:scaleX(1.2419);-webkit-text-stroke:0.28px #1d2433;">9</span>
<span style="left:137.15px;top:889.56px;font-size:17.09px;line-height:21px;font-weight:bold;color:#1d2433;transform:scaleX(1.1521);-webkit-text-stroke:0.28px #1d2433;">3</span>
<span style="left:147.51px;top:889.56px;font-size:17.09px;line-height:21px;font-weight:bold;color:#1d2433;transform:scaleX(1.3259);-webkit-text-stroke:0.28px #1d2433;">0</span>
<span style="left:637.31px;top:623.52px;font-size:46.49px;line-height:56px;font-weight:bold;color:#1d2433;transform:scaleX(1.1585);-webkit-text-stroke:0.76px #1d2433;">MAY</span>
<span style="left:533.40px;top:688.92px;font-size:15.18px;line-height:18px;font-weight:bold;color:#1d2433;transform:scaleX(1.0936);-webkit-text-stroke:0.15px #1d2433;">SUN</span>
<span style="left:581.01px;top:688.92px;font-size:15.18px;line-height:18px;font-weight:bold;color:#1d2433;transform:scaleX(1.1603);-webkit-text-stroke:0.15px #1d2433;">MON</span>
<span style="left:637.61px;top:688.92px;font-size:15.18px;line-height:18px;font-weight:bold;color:#1d2433;transform:scaleX(1.0584);-webkit-text-stroke:0.15px #1d2433;">TUE</span>
<span style="left:686.08px;top:688.92px;font-size:15.18px;line-height:18px;font-weight:bold;color:#1d2433;transform:scaleX(1.1422);-webkit-text-stroke:0.15px #1d2433;">WED</span>
<span style="left:738.31px;top:688.92px;font-size:15.18px;line-height:18px;font-weight:bold;color:#1d2433;transform:scaleX(1.1141);-webkit-text-stroke:0.15px #1d2433;">THU</span>
<span style="left:793.75px;top:688.92px;font-size:15.18px;line-height:18px;font-weight:bold;color:#1d2433;transform:scaleX(1.1169);-webkit-text-stroke:0.15px #1d2433;">FRI</span>
<span style="left:842.52px;top:688.92px;font-size:15.18px;line-height:18px;font-weight:bold;color:#1d2433;transform:scaleX(1.0488);-webkit-text-stroke:0.15px #1d2433;">SAT</span>
<span style="left:650.20px;top:720.16px;font-size:17.09px;line-height:21px;font-weight:bold;color:#1d2433;transform:scaleX(1.1909);-webkit-text-stroke:0.28px #1d2433;">2</span>
<span style="left:701.45px;top:720.16px;font-size:17.09px;line-height:21px;font-weight:bold;color:#1d2433;transform:scaleX(1.1521);-webkit-text-stroke:0.28px #1d2433;">3</span>
<span style="left:752.36px;top:720.16px;font-size:17.09px;line-height:21px;font-weight:bold;color:#1d2433;transform:scaleX(1.3007);-webkit-text-stroke:0.28px #1d2433;">4</span>
<span style="left:802.91px;top:720.16px;font-size:17.09px;line-height:21px;font-weight:bold;color:#1d2433;transform:scaleX(1.1404);-webkit-text-stroke:0.28px #1d2433;">5</span>
<span style="left:853.82px;top:720.16px;font-size:17.09px;line-height:21px;font-weight:bold;color:#1d2433;transform:scaleX(1.2451);-webkit-text-stroke:0.28px #1d2433;">6</span>
<span style="left:548.56px;top:761.76px;font-size:17.09px;line-height:21px;font-weight:bold;color:#1d2433;transform:scaleX(1.2848);-webkit-text-stroke:0.28px #1d2433;">7</span>
<span style="left:599.41px;top:761.76px;font-size:17.09px;line-height:21px;font-weight:bold;color:#1d2433;transform:scaleX(1.2672);-webkit-text-stroke:0.28px #1d2433;">8</span>
<span style="left:650.17px;top:761.76px;font-size:17.09px;line-height:21px;font-weight:bold;color:#1d2433;transform:scaleX(1.2419);-webkit-text-stroke:0.28px #1d2433;">9</span>
<span style="left:708.26px;top:761.76px;font-size:17.09px;line-height:21px;font-weight:bold;color:#1d2433;transform:scaleX(1.3259);-webkit-text-stroke:0.28px #1d2433;">0</span>
<span style="left:810.05px;top:761.76px;font-size:17.09px;line-height:21px;font-weight:bold;color:#1d2433;transform:scaleX(1.1909);-webkit-text-stroke:0.28px #1d2433;">2</span>
<span style="left:861.40px;top:761.76px;font-size:17.09px;line-height:21px;font-weight:bold;color:#1d2433;transform:scaleX(1.1521);-webkit-text-stroke:0.28px #1d2433;">3</span>
<span style="left:555.91px;top:803.46px;font-size:17.09px;line-height:21px;font-weight:bold;color:#1d2433;transform:scaleX(1.3007);-webkit-text-stroke:0.28px #1d2433;">4</span>
<span style="left:606.76px;top:803.46px;font-size:17.09px;line-height:21px;font-weight:bold;color:#1d2433;transform:scaleX(1.1404);-webkit-text-stroke:0.28px #1d2433;">5</span>
<span style="left:657.37px;top:803.46px;font-size:17.09px;line-height:21px;font-weight:bold;color:#1d2433;transform:scaleX(1.2451);-webkit-text-stroke:0.28px #1d2433;">6</span>
<span style="left:707.71px;top:803.46px;font-size:17.09px;line-height:21px;font-weight:bold;color:#1d2433;transform:scaleX(1.2848);-webkit-text-stroke:0.28px #1d2433;">7</span>
<span style="left:759.26px;top:803.46px;font-size:17.09px;line-height:21px;font-weight:bold;color:#1d2433;transform:scaleX(1.2672);-webkit-text-stroke:0.28px #1d2433;">8</span>
<span style="left:810.02px;top:803.46px;font-size:17.09px;line-height:21px;font-weight:bold;color:#1d2433;transform:scaleX(1.2419);-webkit-text-stroke:0.28px #1d2433;">9</span>
<span style="left:853.90px;top:803.46px;font-size:17.09px;line-height:21px;font-weight:bold;color:#1d2433;transform:scaleX(1.1909);-webkit-text-stroke:0.28px #1d2433;">2</span>
<span style="left:864.51px;top:803.46px;font-size:17.09px;line-height:21px;font-weight:bold;color:#1d2433;transform:scaleX(1.3259);-webkit-text-stroke:0.28px #1d2433;">0</span>
<span style="left:599.40px;top:845.86px;font-size:17.09px;line-height:21px;font-weight:bold;color:#1d2433;transform:scaleX(1.1909);-webkit-text-stroke:0.28px #1d2433;">2</span>
<span style="left:610.20px;top:845.86px;font-size:17.09px;line-height:21px;font-weight:bold;color:#1d2433;transform:scaleX(1.1909);-webkit-text-stroke:0.28px #1d2433;">2</span>
<span style="left:650.20px;top:845.86px;font-size:17.09px;line-height:21px;font-weight:bold;color:#1d2433;transform:scaleX(1.1909);-webkit-text-stroke:0.28px #1d2433;">2</span>
<span style="left:661.25px;top:845.86px;font-size:17.09px;line-height:21px;font-weight:bold;color:#1d2433;transform:scaleX(1.1521);-webkit-text-stroke:0.28px #1d2433;">3</span>
<span style="left:701.20px;top:845.86px;font-size:17.09px;line-height:21px;font-weight:bold;color:#1d2433;transform:scaleX(1.1909);-webkit-text-stroke:0.28px #1d2433;">2</span>
<span style="left:712.36px;top:845.86px;font-size:17.09px;line-height:21px;font-weight:bold;color:#1d2433;transform:scaleX(1.3007);-webkit-text-stroke:0.28px #1d2433;">4</span>
<span style="left:752.00px;top:845.86px;font-size:17.09px;line-height:21px;font-weight:bold;color:#1d2433;transform:scaleX(1.1909);-webkit-text-stroke:0.28px #1d2433;">2</span>
<span style="left:762.91px;top:845.86px;font-size:17.09px;line-height:21px;font-weight:bold;color:#1d2433;transform:scaleX(1.1404);-webkit-text-stroke:0.28px #1d2433;">5</span>
<span style="left:802.80px;top:845.86px;font-size:17.09px;line-height:21px;font-weight:bold;color:#1d2433;transform:scaleX(1.1909);-webkit-text-stroke:0.28px #1d2433;">2</span>
<span style="left:813.52px;top:845.86px;font-size:17.09px;line-height:21px;font-weight:bold;color:#1d2433;transform:scaleX(1.2451);-webkit-text-stroke:0.28px #1d2433;">6</span>
<span style="left:853.90px;top:845.86px;font-size:17.09px;line-height:21px;font-weight:bold;color:#1d2433;transform:scaleX(1.1909);-webkit-text-stroke:0.28px #1d2433;">2</span>
<span style="left:864.46px;top:845.86px;font-size:17.09px;line-height:21px;font-weight:bold;color:#1d2433;transform:scaleX(1.2848);-webkit-text-stroke:0.28px #1d2433;">7</span>
<span style="left:548.80px;top:887.86px;font-size:17.09px;line-height:21px;font-weight:bold;color:#1d2433;transform:scaleX(1.1909);-webkit-text-stroke:0.28px #1d2433;">2</span>
<span style="left:559.61px;top:887.86px;font-size:17.09px;line-height:21px;font-weight:bold;color:#1d2433;transform:scaleX(1.2672);-webkit-text-stroke:0.28px #1d2433;">8</span>
<span style="left:599.40px;top:887.86px;font-size:17.09px;line-height:21px;font-weight:bold;color:#1d2433;transform:scaleX(1.1909);-webkit-text-stroke:0.28px #1d2433;">2</span>
<span style="left:610.17px;top:887.86px;font-size:17.09px;line-height:21px;font-weight:bold;color:#1d2433;transform:scaleX(1.2419);-webkit-text-stroke:0.28px #1d2433;">9</span>
<span style="left:650.45px;top:887.86px;font-size:17.09px;line-height:21px;font-weight:bold;color:#1d2433;transform:scaleX(1.1521);-webkit-text-stroke:0.28px #1d2433;">3</span>
<span style="left:660.81px;top:887.86px;font-size:17.09px;line-height:21px;font-weight:bold;color:#1d2433;transform:scaleX(1.3259);-webkit-text-stroke:0.28px #1d2433;">0</span>
<span style="left:701.45px;top:887.86px;font-size:17.09px;line-height:21px;font-weight:bold;color:#1d2433;transform:scaleX(1.1521);-webkit-text-stroke:0.28px #1d2433;">3</span>
<span style="left:1059.61px;top:623.52px;font-size:46.49px;line-height:56px;font-weight:bold;color:#1d2433;transform:scaleX(1.1013);-webkit-text-stroke:0.76px #1d2433;">JUN</span>
<span style="left:943.90px;top:688.92px;font-size:15.18px;line-height:18px;font-weight:bold;color:#1d2433;transform:scaleX(1.0936);-webkit-text-stroke:0.15px #1d2433;">SUN</span>
<span style="left:991.51px;top:688.92px;font-size:15.18px;line-height:18px;font-weight:bold;color:#1d2433;transform:scaleX(1.1603);-webkit-text-stroke:0.15px #1d2433;">MON</span>
<span style="left:1048.11px;top:688.92px;font-size:15.18px;line-height:18px;font-weight:bold;color:#1d2433;transform:scaleX(1.0584);-webkit-text-stroke:0.15px #1d2433;">TUE</span>
<span style="left:1096.58px;top:688.92px;font-size:15.18px;line-height:18px;font-weight:bold;color:#1d2433;transform:scaleX(1.1422);-webkit-text-stroke:0.15px #1d2433;">WED</span>
<span style="left:1148.81px;top:688.92px;font-size:15.18px;line-height:18px;font-weight:bold;color:#1d2433;transform:scaleX(1.1141);-webkit-text-stroke:0.15px #1d2433;">THU</span>
<span style="left:1204.25px;top:688.92px;font-size:15.18px;line-height:18px;font-weight:bold;color:#1d2433;transform:scaleX(1.1169);-webkit-text-stroke:0.15px #1d2433;">FRI</span>
<span style="left:1253.02px;top:688.92px;font-size:15.18px;line-height:18px;font-weight:bold;color:#1d2433;transform:scaleX(1.0488);-webkit-text-stroke:0.15px #1d2433;">SAT</span>
<span style="left:1211.80px;top:719.86px;font-size:17.09px;line-height:21px;font-weight:bold;color:#1d2433;transform:scaleX(1.1909);-webkit-text-stroke:0.28px #1d2433;">2</span>
<span style="left:1263.55px;top:719.86px;font-size:17.09px;line-height:21px;font-weight:bold;color:#1d2433;transform:scaleX(1.1521);-webkit-text-stroke:0.28px #1d2433;">3</span>
<span style="left:953.46px;top:762.56px;font-size:17.09px;line-height:21px;font-weight:bold;color:#1d2433;transform:scaleX(1.3007);-webkit-text-stroke:0.28px #1d2433;">4</span>
<span style="left:1004.61px;top:762.56px;font-size:17.09px;line-height:21px;font-weight:bold;color:#1d2433;transform:scaleX(1.1404);-webkit-text-stroke:0.28px #1d2433;">5</span>
<span style="left:1056.32px;top:762.56px;font-size:17.09px;line-height:21px;font-weight:bold;color:#1d2433;transform:scaleX(1.2451);-webkit-text-stroke:0.28px #1d2433;">6</span>
<span style="left:1107.86px;top:762.56px;font-size:17.09px;line-height:21px;font-weight:bold;color:#1d2433;transform:scaleX(1.2848);-webkit-text-stroke:0.28px #1d2433;">7</span>
<span style="left:1159.91px;top:762.56px;font-size:17.09px;line-height:21px;font-weight:bold;color:#1d2433;transform:scaleX(1.2672);-webkit-text-stroke:0.28px #1d2433;">8</span>
<span style="left:1211.77px;top:762.56px;font-size:17.09px;line-height:21px;font-weight:bold;color:#1d2433;transform:scaleX(1.2419);-webkit-text-stroke:0.28px #1d2433;">9</span>
<span style="left:1270.36px;top:762.56px;font-size:17.09px;line-height:21px;font-weight:bold;color:#1d2433;transform:scaleX(1.3259);-webkit-text-stroke:0.28px #1d2433;">0</span>
<span style="left:1011.75px;top:804.96px;font-size:17.09px;line-height:21px;font-weight:bold;color:#1d2433;transform:scaleX(1.1909);-webkit-text-stroke:0.28px #1d2433;">2</span>
<span style="left:1063.90px;top:804.96px;font-size:17.09px;line-height:21px;font-weight:bold;color:#1d2433;transform:scaleX(1.1521);-webkit-text-stroke:0.28px #1d2433;">3</span>
<span style="left:1115.21px;top:804.96px;font-size:17.09px;line-height:21px;font-weight:bold;color:#1d2433;transform:scaleX(1.3007);-webkit-text-stroke:0.28px #1d2433;">4</span>
<span style="left:1167.26px;top:804.96px;font-size:17.09px;line-height:21px;font-weight:bold;color:#1d2433;transform:scaleX(1.1404);-webkit-text-stroke:0.28px #1d2433;">5</span>
<span style="left:1218.97px;top:804.96px;font-size:17.09px;line-height:21px;font-weight:bold;color:#1d2433;transform:scaleX(1.2451);-webkit-text-stroke:0.28px #1d2433;">6</span>
<span style="left:1269.81px;top:804.96px;font-size:17.09px;line-height:21px;font-weight:bold;color:#1d2433;transform:scaleX(1.2848);-webkit-text-stroke:0.28px #1d2433;">7</span>
<span style="left:960.36px;top:848.06px;font-size:17.09px;line-height:21px;font-weight:bold;color:#1d2433;transform:scaleX(1.2672);-webkit-text-stroke:0.28px #1d2433;">8</span>
<span style="left:1011.72px;top:848.06px;font-size:17.09px;line-height:21px;font-weight:bold;color:#1d2433;transform:scaleX(1.2419);-webkit-text-stroke:0.28px #1d2433;">9</span>
<span style="left:1056.40px;top:848.06px;font-size:17.09px;line-height:21px;font-weight:bold;color:#1d2433;transform:scaleX(1.1909);-webkit-text-stroke:0.28px #1d2433;">2</span>
<span style="left:1067.01px;top:848.06px;font-size:17.09px;line-height:21px;font-weight:bold;color:#1d2433;transform:scaleX(1.3259);-webkit-text-stroke:0.28px #1d2433;">0</span>
<span style="left:1108.10px;top:848.06px;font-size:17.09px;line-height:21px;font-weight:bold;color:#1d2433;transform:scaleX(1.1909);-webkit-text-stroke:0.28px #1d2433;">2</span>
<span style="left:1159.90px;top:848.06px;font-size:17.09px;line-height:21px;font-weight:bold;color:#1d2433;transform:scaleX(1.1909);-webkit-text-stroke:0.28px #1d2433;">2</span>
<span style="left:1170.70px;top:848.06px;font-size:17.09px;line-height:21px;font-weight:bold;color:#1d2433;transform:scaleX(1.1909);-webkit-text-stroke:0.28px #1d2433;">2</span>
<span style="left:1211.80px;top:848.06px;font-size:17.09px;line-height:21px;font-weight:bold;color:#1d2433;transform:scaleX(1.1909);-webkit-text-stroke:0.28px #1d2433;">2</span>
<span style="left:1222.85px;top:848.06px;font-size:17.09px;line-height:21px;font-weight:bold;color:#1d2433;transform:scaleX(1.1521);-webkit-text-stroke:0.28px #1d2433;">3</span>
<span style="left:1263.30px;top:848.06px;font-size:17.09px;line-height:21px;font-weight:bold;color:#1d2433;transform:scaleX(1.1909);-webkit-text-stroke:0.28px #1d2433;">2</span>
<span style="left:1274.46px;top:848.06px;font-size:17.09px;line-height:21px;font-weight:bold;color:#1d2433;transform:scaleX(1.3007);-webkit-text-stroke:0.28px #1d2433;">4</span>
<span style="left:953.10px;top:890.26px;font-size:17.09px;line-height:21px;font-weight:bold;color:#1d2433;transform:scaleX(1.1909);-webkit-text-stroke:0.28px #1d2433;">2</span>
<span style="left:964.01px;top:890.26px;font-size:17.09px;line-height:21px;font-weight:bold;color:#1d2433;transform:scaleX(1.1404);-webkit-text-stroke:0.28px #1d2433;">5</span>
<span style="left:1004.50px;top:890.26px;font-size:17.09px;line-height:21px;font-weight:bold;color:#1d2433;transform:scaleX(1.1909);-webkit-text-stroke:0.28px #1d2433;">2</span>
<span style="left:1015.22px;top:890.26px;font-size:17.09px;line-height:21px;font-weight:bold;color:#1d2433;transform:scaleX(1.2451);-webkit-text-stroke:0.28px #1d2433;">6</span>
<span style="left:1056.40px;top:890.26px;font-size:17.09px;line-height:21px;font-weight:bold;color:#1d2433;transform:scaleX(1.1909);-webkit-text-stroke:0.28px #1d2433;">2</span>
<span style="left:1066.96px;top:890.26px;font-size:17.09px;line-height:21px;font-weight:bold;color:#1d2433;transform:scaleX(1.2848);-webkit-text-stroke:0.28px #1d2433;">7</span>
<span style="left:1108.10px;top:890.26px;font-size:17.09px;line-height:21px;font-weight:bold;color:#1d2433;transform:scaleX(1.1909);-webkit-text-stroke:0.28px #1d2433;">2</span>
<span style="left:1118.91px;top:890.26px;font-size:17.09px;line-height:21px;font-weight:bold;color:#1d2433;transform:scaleX(1.2672);-webkit-text-stroke:0.28px #1d2433;">8</span>
<span style="left:1159.90px;top:890.26px;font-size:17.09px;line-height:21px;font-weight:bold;color:#1d2433;transform:scaleX(1.1909);-webkit-text-stroke:0.28px #1d2433;">2</span>
<span style="left:1170.67px;top:890.26px;font-size:17.09px;line-height:21px;font-weight:bold;color:#1d2433;transform:scaleX(1.2419);-webkit-text-stroke:0.28px #1d2433;">9</span>
<span style="left:1212.05px;top:890.26px;font-size:17.09px;line-height:21px;font-weight:bold;color:#1d2433;transform:scaleX(1.1521);-webkit-text-stroke:0.28px #1d2433;">3</span>
<span style="left:1222.41px;top:890.26px;font-size:17.09px;line-height:21px;font-weight:bold;color:#1d2433;transform:scaleX(1.3259);-webkit-text-stroke:0.28px #1d2433;">0</span>
<span style="left:247.04px;top:960.22px;font-size:46.49px;line-height:56px;font-weight:bold;color:#1d2433;transform:scaleX(1.0625);-webkit-text-stroke:0.76px #1d2433;">JUL</span>
<span style="left:123.70px;top:1022.92px;font-size:15.18px;line-height:18px;font-weight:bold;color:#1d2433;transform:scaleX(1.0936);-webkit-text-stroke:0.15px #1d2433;">SUN</span>
<span style="left:171.31px;top:1022.92px;font-size:15.18px;line-height:18px;font-weight:bold;color:#1d2433;transform:scaleX(1.1603);-webkit-text-stroke:0.15px #1d2433;">MON</span>
<span style="left:227.91px;top:1022.92px;font-size:15.18px;line-height:18px;font-weight:bold;color:#1d2433;transform:scaleX(1.0584);-webkit-text-stroke:0.15px #1d2433;">TUE</span>
<span style="left:276.37px;top:1022.92px;font-size:15.18px;line-height:18px;font-weight:bold;color:#1d2433;transform:scaleX(1.1422);-webkit-text-stroke:0.15px #1d2433;">WED</span>
<span style="left:328.61px;top:1022.92px;font-size:15.18px;line-height:18px;font-weight:bold;color:#1d2433;transform:scaleX(1.1141);-webkit-text-stroke:0.15px #1d2433;">THU</span>
<span style="left:384.05px;top:1022.92px;font-size:15.18px;line-height:18px;font-weight:bold;color:#1d2433;transform:scaleX(1.1169);-webkit-text-stroke:0.15px #1d2433;">FRI</span>
<span style="left:432.82px;top:1022.92px;font-size:15.18px;line-height:18px;font-weight:bold;color:#1d2433;transform:scaleX(1.0488);-webkit-text-stroke:0.15px #1d2433;">SAT</span>
<span style="left:136.50px;top:1086.76px;font-size:17.09px;line-height:21px;font-weight:bold;color:#1d2433;transform:scaleX(1.1909);-webkit-text-stroke:0.28px #1d2433;">2</span>
<span style="left:187.15px;top:1086.76px;font-size:17.09px;line-height:21px;font-weight:bold;color:#1d2433;transform:scaleX(1.1521);-webkit-text-stroke:0.28px #1d2433;">3</span>
<span style="left:238.06px;top:1086.76px;font-size:17.09px;line-height:21px;font-weight:bold;color:#1d2433;transform:scaleX(1.3007);-webkit-text-stroke:0.28px #1d2433;">4</span>
<span style="left:290.51px;top:1086.76px;font-size:17.09px;line-height:21px;font-weight:bold;color:#1d2433;transform:scaleX(1.1404);-webkit-text-stroke:0.28px #1d2433;">5</span>
<span style="left:343.22px;top:1086.76px;font-size:17.09px;line-height:21px;font-weight:bold;color:#1d2433;transform:scaleX(1.2451);-webkit-text-stroke:0.28px #1d2433;">6</span>
<span style="left:393.56px;top:1086.76px;font-size:17.09px;line-height:21px;font-weight:bold;color:#1d2433;transform:scaleX(1.2848);-webkit-text-stroke:0.28px #1d2433;">7</span>
<span style="left:444.11px;top:1086.76px;font-size:17.09px;line-height:21px;font-weight:bold;color:#1d2433;transform:scaleX(1.2672);-webkit-text-stroke:0.28px #1d2433;">8</span>
<span style="left:136.47px;top:1120.56px;font-size:17.09px;line-height:21px;font-weight:bold;color:#1d2433;transform:scaleX(1.2419);-webkit-text-stroke:0.28px #1d2433;">9</span>
<span style="left:193.96px;top:1120.56px;font-size:17.09px;line-height:21px;font-weight:bold;color:#1d2433;transform:scaleX(1.3259);-webkit-text-stroke:0.28px #1d2433;">0</span>
<span style="left:297.65px;top:1120.56px;font-size:17.09px;line-height:21px;font-weight:bold;color:#1d2433;transform:scaleX(1.1909);-webkit-text-stroke:0.28px #1d2433;">2</span>
<span style="left:350.80px;top:1120.56px;font-size:17.09px;line-height:21px;font-weight:bold;color:#1d2433;transform:scaleX(1.1521);-webkit-text-stroke:0.28px #1d2433;">3</span>
<span style="left:400.91px;top:1120.56px;font-size:17.09px;line-height:21px;font-weight:bold;color:#1d2433;transform:scaleX(1.3007);-webkit-text-stroke:0.28px #1d2433;">4</span>
<span style="left:451.46px;top:1120.56px;font-size:17.09px;line-height:21px;font-weight:bold;color:#1d2433;transform:scaleX(1.1404);-webkit-text-stroke:0.28px #1d2433;">5</span>
<span style="left:143.67px;top:1153.66px;font-size:17.09px;line-height:21px;font-weight:bold;color:#1d2433;transform:scaleX(1.2451);-webkit-text-stroke:0.28px #1d2433;">6</span>
<span style="left:193.41px;top:1153.66px;font-size:17.09px;line-height:21px;font-weight:bold;color:#1d2433;transform:scaleX(1.2848);-webkit-text-stroke:0.28px #1d2433;">7</span>
<span style="left:244.96px;top:1153.66px;font-size:17.09px;line-height:21px;font-weight:bold;color:#1d2433;transform:scaleX(1.2672);-webkit-text-stroke:0.28px #1d2433;">8</span>
<span style="left:297.62px;top:1153.66px;font-size:17.09px;line-height:21px;font-weight:bold;color:#1d2433;transform:scaleX(1.2419);-webkit-text-stroke:0.28px #1d2433;">9</span>
<span style="left:343.30px;top:1153.66px;font-size:17.09px;line-height:21px;font-weight:bold;color:#1d2433;transform:scaleX(1.1909);-webkit-text-stroke:0.28px #1d2433;">2</span>
<span style="left:353.91px;top:1153.66px;font-size:17.09px;line-height:21px;font-weight:bold;color:#1d2433;transform:scaleX(1.3259);-webkit-text-stroke:0.28px #1d2433;">0</span>
<span style="left:393.80px;top:1153.66px;font-size:17.09px;line-height:21px;font-weight:bold;color:#1d2433;transform:scaleX(1.1909);-webkit-text-stroke:0.28px #1d2433;">2</span>
<span style="left:444.10px;top:1153.66px;font-size:17.09px;line-height:21px;font-weight:bold;color:#1d2433;transform:scaleX(1.1909);-webkit-text-stroke:0.28px #1d2433;">2</span>
<span style="left:454.90px;top:1153.66px;font-size:17.09px;line-height:21px;font-weight:bold;color:#1d2433;transform:scaleX(1.1909);-webkit-text-stroke:0.28px #1d2433;">2</span>
<span style="left:136.50px;top:1187.06px;font-size:17.09px;line-height:21px;font-weight:bold;color:#1d2433;transform:scaleX(1.1909);-webkit-text-stroke:0.28px #1d2433;">2</span>
<span style="left:147.55px;top:1187.06px;font-size:17.09px;line-height:21px;font-weight:bold;color:#1d2433;transform:scaleX(1.1521);-webkit-text-stroke:0.28px #1d2433;">3</span>
<span style="left:186.90px;top:1187.06px;font-size:17.09px;line-height:21px;font-weight:bold;color:#1d2433;transform:scaleX(1.1909);-webkit-text-stroke:0.28px #1d2433;">2</span>
<span style="left:198.06px;top:1187.06px;font-size:17.09px;line-height:21px;font-weight:bold;color:#1d2433;transform:scaleX(1.3007);-webkit-text-stroke:0.28px #1d2433;">4</span>
<span style="left:237.70px;top:1187.06px;font-size:17.09px;line-height:21px;font-weight:bold;color:#1d2433;transform:scaleX(1.1909);-webkit-text-stroke:0.28px #1d2433;">2</span>
<span style="left:248.61px;top:1187.06px;font-size:17.09px;line-height:21px;font-weight:bold;color:#1d2433;transform:scaleX(1.1404);-webkit-text-stroke:0.28px #1d2433;">5</span>
<span style="left:290.40px;top:1187.06px;font-size:17.09px;line-height:21px;font-weight:bold;color:#1d2433;transform:scaleX(1.1909);-webkit-text-stroke:0.28px #1d2433;">2</span>
<span style="left:301.12px;top:1187.06px;font-size:17.09px;line-height:21px;font-weight:bold;color:#1d2433;transform:scaleX(1.2451);-webkit-text-stroke:0.28px #1d2433;">6</span>
<span style="left:343.30px;top:1187.06px;font-size:17.09px;line-height:21px;font-weight:bold;color:#1d2433;transform:scaleX(1.1909);-webkit-text-stroke:0.28px #1d2433;">2</span>
<span style="left:353.86px;top:1187.06px;font-size:17.09px;line-height:21px;font-weight:bold;color:#1d2433;transform:scaleX(1.2848);-webkit-text-stroke:0.28px #1d2433;">7</span>
<span style="left:393.80px;top:1187.06px;font-size:17.09px;line-height:21px;font-weight:bold;color:#1d2433;transform:scaleX(1.1909);-webkit-text-stroke:0.28px #1d2433;">2</span>
<span style="left:404.61px;top:1187.06px;font-size:17.09px;line-height:21px;font-weight:bold;color:#1d2433;transform:scaleX(1.2672);-webkit-text-stroke:0.28px #1d2433;">8</span>
<span style="left:444.10px;top:1187.06px;font-size:17.09px;line-height:21px;font-weight:bold;color:#1d2433;transform:scaleX(1.1909);-webkit-text-stroke:0.28px #1d2433;">2</span>
<span style="left:454.87px;top:1187.06px;font-size:17.09px;line-height:21px;font-weight:bold;color:#1d2433;transform:scaleX(1.2419);-webkit-text-stroke:0.28px #1d2433;">9</span>
<span style="left:136.75px;top:1220.06px;font-size:17.09px;line-height:21px;font-weight:bold;color:#1d2433;transform:scaleX(1.1521);-webkit-text-stroke:0.28px #1d2433;">3</span>
<span style="left:147.11px;top:1220.06px;font-size:17.09px;line-height:21px;font-weight:bold;color:#1d2433;transform:scaleX(1.3259);-webkit-text-stroke:0.28px #1d2433;">0</span>
<span style="left:187.15px;top:1220.06px;font-size:17.09px;line-height:21px;font-weight:bold;color:#1d2433;transform:scaleX(1.1521);-webkit-text-stroke:0.28px #1d2433;">3</span>
<span style="left:639.08px;top:960.22px;font-size:46.49px;line-height:56px;font-weight:bold;color:#1d2433;transform:scaleX(1.0858);-webkit-text-stroke:0.76px #1d2433;">AUG</span>
<span style="left:533.40px;top:1023.52px;font-size:15.18px;line-height:18px;font-weight:bold;color:#1d2433;transform:scaleX(1.0936);-webkit-text-stroke:0.15px #1d2433;">SUN</span>
<span style="left:581.01px;top:1023.52px;font-size:15.18px;line-height:18px;font-weight:bold;color:#1d2433;transform:scaleX(1.1603);-webkit-text-stroke:0.15px #1d2433;">MON</span>
<span style="left:637.61px;top:1023.52px;font-size:15.18px;line-height:18px;font-weight:bold;color:#1d2433;transform:scaleX(1.0584);-webkit-text-stroke:0.15px #1d2433;">TUE</span>
<span style="left:686.08px;top:1023.52px;font-size:15.18px;line-height:18px;font-weight:bold;color:#1d2433;transform:scaleX(1.1422);-webkit-text-stroke:0.15px #1d2433;">WED</span>
<span style="left:738.31px;top:1023.52px;font-size:15.18px;line-height:18px;font-weight:bold;color:#1d2433;transform:scaleX(1.1141);-webkit-text-stroke:0.15px #1d2433;">THU</span>
<span style="left:793.75px;top:1023.52px;font-size:15.18px;line-height:18px;font-weight:bold;color:#1d2433;transform:scaleX(1.1169);-webkit-text-stroke:0.15px #1d2433;">FRI</span>
<span style="left:842.52px;top:1023.52px;font-size:15.18px;line-height:18px;font-weight:bold;color:#1d2433;transform:scaleX(1.0488);-webkit-text-stroke:0.15px #1d2433;">SAT</span>
<span style="left:696.80px;top:1050.76px;font-size:17.09px;line-height:21px;font-weight:bold;color:#1d2433;transform:scaleX(1.1909);-webkit-text-stroke:0.28px #1d2433;">2</span>
<span style="left:749.15px;top:1050.76px;font-size:17.09px;line-height:21px;font-weight:bold;color:#1d2433;transform:scaleX(1.1521);-webkit-text-stroke:0.28px #1d2433;">3</span>
<span style="left:800.66px;top:1050.76px;font-size:17.09px;line-height:21px;font-weight:bold;color:#1d2433;transform:scaleX(1.3007);-webkit-text-stroke:0.28px #1d2433;">4</span>
<span style="left:851.91px;top:1050.76px;font-size:17.09px;line-height:21px;font-weight:bold;color:#1d2433;transform:scaleX(1.1404);-webkit-text-stroke:0.28px #1d2433;">5</span>
<span style="left:541.92px;top:1093.36px;font-size:17.09px;line-height:21px;font-weight:bold;color:#1d2433;transform:scaleX(1.2451);-webkit-text-stroke:0.28px #1d2433;">6</span>
<span style="left:593.26px;top:1093.36px;font-size:17.09px;line-height:21px;font-weight:bold;color:#1d2433;transform:scaleX(1.2848);-webkit-text-stroke:0.28px #1d2433;">7</span>
<span style="left:645.41px;top:1093.36px;font-size:17.09px;line-height:21px;font-weight:bold;color:#1d2433;transform:scaleX(1.2672);-webkit-text-stroke:0.28px #1d2433;">8</span>
<span style="left:696.77px;top:1093.36px;font-size:17.09px;line-height:21px;font-weight:bold;color:#1d2433;transform:scaleX(1.2419);-webkit-text-stroke:0.28px #1d2433;">9</span>
<span style="left:755.96px;top:1093.36px;font-size:17.09px;line-height:21px;font-weight:bold;color:#1d2433;transform:scaleX(1.3259);-webkit-text-stroke:0.28px #1d2433;">0</span>
<span style="left:859.05px;top:1093.36px;font-size:17.09px;line-height:21px;font-weight:bold;color:#1d2433;transform:scaleX(1.1909);-webkit-text-stroke:0.28px #1d2433;">2</span>
<span style="left:549.50px;top:1135.86px;font-size:17.09px;line-height:21px;font-weight:bold;color:#1d2433;transform:scaleX(1.1521);-webkit-text-stroke:0.28px #1d2433;">3</span>
<span style="left:600.61px;top:1135.86px;font-size:17.09px;line-height:21px;font-weight:bold;color:#1d2433;transform:scaleX(1.3007);-webkit-text-stroke:0.28px #1d2433;">4</span>
<span style="left:652.76px;top:1135.86px;font-size:17.09px;line-height:21px;font-weight:bold;color:#1d2433;transform:scaleX(1.1404);-webkit-text-stroke:0.28px #1d2433;">5</span>
<span style="left:703.97px;top:1135.86px;font-size:17.09px;line-height:21px;font-weight:bold;color:#1d2433;transform:scaleX(1.2451);-webkit-text-stroke:0.28px #1d2433;">6</span>
<span style="left:755.41px;top:1135.86px;font-size:17.09px;line-height:21px;font-weight:bold;color:#1d2433;transform:scaleX(1.2848);-webkit-text-stroke:0.28px #1d2433;">7</span>
<span style="left:807.56px;top:1135.86px;font-size:17.09px;line-height:21px;font-weight:bold;color:#1d2433;transform:scaleX(1.2672);-webkit-text-stroke:0.28px #1d2433;">8</span>
<span style="left:859.02px;top:1135.86px;font-size:17.09px;line-height:21px;font-weight:bold;color:#1d2433;transform:scaleX(1.2419);-webkit-text-stroke:0.28px #1d2433;">9</span>
<span style="left:542.00px;top:1178.86px;font-size:17.09px;line-height:21px;font-weight:bold;color:#1d2433;transform:scaleX(1.1909);-webkit-text-stroke:0.28px #1d2433;">2</span>
<span style="left:552.61px;top:1178.86px;font-size:17.09px;line-height:21px;font-weight:bold;color:#1d2433;transform:scaleX(1.3259);-webkit-text-stroke:0.28px #1d2433;">0</span>
<span style="left:593.50px;top:1178.86px;font-size:17.09px;line-height:21px;font-weight:bold;color:#1d2433;transform:scaleX(1.1909);-webkit-text-stroke:0.28px #1d2433;">2</span>
<span style="left:645.40px;top:1178.86px;font-size:17.09px;line-height:21px;font-weight:bold;color:#1d2433;transform:scaleX(1.1909);-webkit-text-stroke:0.28px #1d2433;">2</span>
<span style="left:656.20px;top:1178.86px;font-size:17.09px;line-height:21px;font-weight:bold;color:#1d2433;transform:scaleX(1.1909);-webkit-text-stroke:0.28px #1d2433;">2</span>
<span style="left:696.80px;top:1178.86px;font-size:17.09px;line-height:21px;font-weight:bold;color:#1d2433;transform:scaleX(1.1909);-webkit-text-stroke:0.28px #1d2433;">2</span>
<span style="left:707.85px;top:1178.86px;font-size:17.09px;line-height:21px;font-weight:bold;color:#1d2433;transform:scaleX(1.1521);-webkit-text-stroke:0.28px #1d2433;">3</span>
<span style="left:748.90px;top:1178.86px;font-size:17.09px;line-height:21px;font-weight:bold;color:#1d2433;transform:scaleX(1.1909);-webkit-text-stroke:0.28px #1d2433;">2</span>
<span style="left:760.06px;top:1178.86px;font-size:17.09px;line-height:21px;font-weight:bold;color:#1d2433;transform:scaleX(1.3007);-webkit-text-stroke:0.28px #1d2433;">4</span>
<span style="left:800.30px;top:1178.86px;font-size:17.09px;line-height:21px;font-weight:bold;color:#1d2433;transform:scaleX(1.1909);-webkit-text-stroke:0.28px #1d2433;">2</span>
<span style="left:811.21px;top:1178.86px;font-size:17.09px;line-height:21px;font-weight:bold;color:#1d2433;transform:scaleX(1.1404);-webkit-text-stroke:0.28px #1d2433;">5</span>
<span style="left:851.80px;top:1178.86px;font-size:17.09px;line-height:21px;font-weight:bold;color:#1d2433;transform:scaleX(1.1909);-webkit-text-stroke:0.28px #1d2433;">2</span>
<span style="left:862.52px;top:1178.86px;font-size:17.09px;line-height:21px;font-weight:bold;color:#1d2433;transform:scaleX(1.2451);-webkit-text-stroke:0.28px #1d2433;">6</span>
<span style="left:542.00px;top:1221.06px;font-size:17.09px;line-height:21px;font-weight:bold;color:#1d2433;transform:scaleX(1.1909);-webkit-text-stroke:0.28px #1d2433;">2</span>
<span style="left:552.56px;top:1221.06px;font-size:17.09px;line-height:21px;font-weight:bold;color:#1d2433;transform:scaleX(1.2848);-webkit-text-stroke:0.28px #1d2433;">7</span>
<span style="left:593.50px;top:1221.06px;font-size:17.09px;line-height:21px;font-weight:bold;color:#1d2433;transform:scaleX(1.1909);-webkit-text-stroke:0.28px #1d2433;">2</span>
<span style="left:604.31px;top:1221.06px;font-size:17.09px;line-height:21px;font-weight:bold;color:#1d2433;transform:scaleX(1.2672);-webkit-text-stroke:0.28px #1d2433;">8</span>
<span style="left:645.40px;top:1221.06px;font-size:17.09px;line-height:21px;font-weight:bold;color:#1d2433;transform:scaleX(1.1909);-webkit-text-stroke:0.28px #1d2433;">2</span>
<span style="left:656.17px;top:1221.06px;font-size:17.09px;line-height:21px;font-weight:bold;color:#1d2433;transform:scaleX(1.2419);-webkit-text-stroke:0.28px #1d2433;">9</span>
<span style="left:697.05px;top:1221.06px;font-size:17.09px;line-height:21px;font-weight:bold;color:#1d2433;transform:scaleX(1.1521);-webkit-text-stroke:0.28px #1d2433;">3</span>
<span style="left:707.41px;top:1221.06px;font-size:17.09px;line-height:21px;font-weight:bold;color:#1d2433;transform:scaleX(1.3259);-webkit-text-stroke:0.28px #1d2433;">0</span>
<span style="left:749.15px;top:1221.06px;font-size:17.09px;line-height:21px;font-weight:bold;color:#1d2433;transform:scaleX(1.1521);-webkit-text-stroke:0.28px #1d2433;">3</span>
<span style="left:1067.81px;top:960.22px;font-size:46.49px;line-height:56px;font-weight:bold;color:#1d2433;transform:scaleX(1.0278);-webkit-text-stroke:0.76px #1d2433;">SEP</span>
<span style="left:943.90px;top:1023.52px;font-size:15.18px;line-height:18px;font-weight:bold;color:#1d2433;transform:scaleX(1.0936);-webkit-text-stroke:0.15px #1d2433;">SUN</span>
<span style="left:991.51px;top:1023.52px;font-size:15.18px;line-height:18px;font-weight:bold;color:#1d2433;transform:scaleX(1.1603);-webkit-text-stroke:0.15px #1d2433;">MON</span>
<span style="left:1048.11px;top:1023.52px;font-size:15.18px;line-height:18px;font-weight:bold;color:#1d2433;transform:scaleX(1.0584);-webkit-text-stroke:0.15px #1d2433;">TUE</span>
<span style="left:1096.58px;top:1023.52px;font-size:15.18px;line-height:18px;font-weight:bold;color:#1d2433;transform:scaleX(1.1422);-webkit-text-stroke:0.15px #1d2433;">WED</span>
<span style="left:1148.81px;top:1023.52px;font-size:15.18px;line-height:18px;font-weight:bold;color:#1d2433;transform:scaleX(1.1141);-webkit-text-stroke:0.15px #1d2433;">THU</span>
<span style="left:1204.25px;top:1023.52px;font-size:15.18px;line-height:18px;font-weight:bold;color:#1d2433;transform:scaleX(1.1169);-webkit-text-stroke:0.15px #1d2433;">FRI</span>
<span style="left:1253.02px;top:1023.52px;font-size:15.18px;line-height:18px;font-weight:bold;color:#1d2433;transform:scaleX(1.0488);-webkit-text-stroke:0.15px #1d2433;">SAT</span>
<span style="left:1261.40px;top:1054.96px;font-size:17.09px;line-height:21px;font-weight:bold;color:#1d2433;transform:scaleX(1.1909);-webkit-text-stroke:0.28px #1d2433;">2</span>
<span style="left:957.55px;top:1096.56px;font-size:17.09px;line-height:21px;font-weight:bold;color:#1d2433;transform:scaleX(1.1521);-webkit-text-stroke:0.28px #1d2433;">3</span>
<span style="left:1008.46px;top:1096.56px;font-size:17.09px;line-height:21px;font-weight:bold;color:#1d2433;transform:scaleX(1.3007);-webkit-text-stroke:0.28px #1d2433;">4</span>
<span style="left:1058.81px;top:1096.56px;font-size:17.09px;line-height:21px;font-weight:bold;color:#1d2433;transform:scaleX(1.1404);-webkit-text-stroke:0.28px #1d2433;">5</span>
<span style="left:1109.42px;top:1096.56px;font-size:17.09px;line-height:21px;font-weight:bold;color:#1d2433;transform:scaleX(1.2451);-webkit-text-stroke:0.28px #1d2433;">6</span>
<span style="left:1159.66px;top:1096.56px;font-size:17.09px;line-height:21px;font-weight:bold;color:#1d2433;transform:scaleX(1.2848);-webkit-text-stroke:0.28px #1d2433;">7</span>
<span style="left:1211.01px;top:1096.56px;font-size:17.09px;line-height:21px;font-weight:bold;color:#1d2433;transform:scaleX(1.2672);-webkit-text-stroke:0.28px #1d2433;">8</span>
<span style="left:1261.37px;top:1096.56px;font-size:17.09px;line-height:21px;font-weight:bold;color:#1d2433;transform:scaleX(1.2419);-webkit-text-stroke:0.28px #1d2433;">9</span>
<span style="left:964.36px;top:1138.56px;font-size:17.09px;line-height:21px;font-weight:bold;color:#1d2433;transform:scaleX(1.3259);-webkit-text-stroke:0.28px #1d2433;">0</span>
<span style="left:1065.95px;top:1138.56px;font-size:17.09px;line-height:21px;font-weight:bold;color:#1d2433;transform:scaleX(1.1909);-webkit-text-stroke:0.28px #1d2433;">2</span>
<span style="left:1117.00px;top:1138.56px;font-size:17.09px;line-height:21px;font-weight:bold;color:#1d2433;transform:scaleX(1.1521);-webkit-text-stroke:0.28px #1d2433;">3</span>
<span style="left:1167.01px;top:1138.56px;font-size:17.09px;line-height:21px;font-weight:bold;color:#1d2433;transform:scaleX(1.3007);-webkit-text-stroke:0.28px #1d2433;">4</span>
<span style="left:1218.36px;top:1138.56px;font-size:17.09px;line-height:21px;font-weight:bold;color:#1d2433;transform:scaleX(1.1404);-webkit-text-stroke:0.28px #1d2433;">5</span>
<span style="left:1268.57px;top:1138.56px;font-size:17.09px;line-height:21px;font-weight:bold;color:#1d2433;transform:scaleX(1.2451);-webkit-text-stroke:0.28px #1d2433;">6</span>
<span style="left:963.81px;top:1180.56px;font-size:17.09px;line-height:21px;font-weight:bold;color:#1d2433;transform:scaleX(1.2848);-webkit-text-stroke:0.28px #1d2433;">7</span>
<span style="left:1015.36px;top:1180.56px;font-size:17.09px;line-height:21px;font-weight:bold;color:#1d2433;transform:scaleX(1.2672);-webkit-text-stroke:0.28px #1d2433;">8</span>
<span style="left:1065.92px;top:1180.56px;font-size:17.09px;line-height:21px;font-weight:bold;color:#1d2433;transform:scaleX(1.2419);-webkit-text-stroke:0.28px #1d2433;">9</span>
<span style="left:1109.50px;top:1180.56px;font-size:17.09px;line-height:21px;font-weight:bold;color:#1d2433;transform:scaleX(1.1909);-webkit-text-stroke:0.28px #1d2433;">2</span>
<span style="left:1120.11px;top:1180.56px;font-size:17.09px;line-height:21px;font-weight:bold;color:#1d2433;transform:scaleX(1.3259);-webkit-text-stroke:0.28px #1d2433;">0</span>
<span style="left:1159.90px;top:1180.56px;font-size:17.09px;line-height:21px;font-weight:bold;color:#1d2433;transform:scaleX(1.1909);-webkit-text-stroke:0.28px #1d2433;">2</span>
<span style="left:1211.00px;top:1180.56px;font-size:17.09px;line-height:21px;font-weight:bold;color:#1d2433;transform:scaleX(1.1909);-webkit-text-stroke:0.28px #1d2433;">2</span>
<span style="left:1221.80px;top:1180.56px;font-size:17.09px;line-height:21px;font-weight:bold;color:#1d2433;transform:scaleX(1.1909);-webkit-text-stroke:0.28px #1d2433;">2</span>
<span style="left:1261.40px;top:1180.56px;font-size:17.09px;line-height:21px;font-weight:bold;color:#1d2433;transform:scaleX(1.1909);-webkit-text-stroke:0.28px #1d2433;">2</span>
<span style="left:1272.45px;top:1180.56px;font-size:17.09px;line-height:21px;font-weight:bold;color:#1d2433;transform:scaleX(1.1521);-webkit-text-stroke:0.28px #1d2433;">3</span>
<span style="left:957.30px;top:1222.16px;font-size:17.09px;line-height:21px;font-weight:bold;color:#1d2433;transform:scaleX(1.1909);-webkit-text-stroke:0.28px #1d2433;">2</span>
<span style="left:968.46px;top:1222.16px;font-size:17.09px;line-height:21px;font-weight:bold;color:#1d2433;transform:scaleX(1.3007);-webkit-text-stroke:0.28px #1d2433;">4</span>
<span style="left:1008.10px;top:1222.16px;font-size:17.09px;line-height:21px;font-weight:bold;color:#1d2433;transform:scaleX(1.1909);-webkit-text-stroke:0.28px #1d2433;">2</span>
<span style="left:1019.01px;top:1222.16px;font-size:17.09px;line-height:21px;font-weight:bold;color:#1d2433;transform:scaleX(1.1404);-webkit-text-stroke:0.28px #1d2433;">5</span>
<span style="left:1058.70px;top:1222.16px;font-size:17.09px;line-height:21px;font-weight:bold;color:#1d2433;transform:scaleX(1.1909);-webkit-text-stroke:0.28px #1d2433;">2</span>
<span style="left:1069.42px;top:1222.16px;font-size:17.09px;line-height:21px;font-weight:bold;color:#1d2433;transform:scaleX(1.2451);-webkit-text-stroke:0.28px #1d2433;">6</span>
<span style="left:1109.50px;top:1222.16px;font-size:17.09px;line-height:21px;font-weight:bold;color:#1d2433;transform:scaleX(1.1909);-webkit-text-stroke:0.28px #1d2433;">2</span>
<span style="left:1120.06px;top:1222.16px;font-size:17.09px;line-height:21px;font-weight:bold;color:#1d2433;transform:scaleX(1.2848);-webkit-text-stroke:0.28px #1d2433;">7</span>
<span style="left:1159.90px;top:1222.16px;font-size:17.09px;line-height:21px;font-weight:bold;color:#1d2433;transform:scaleX(1.1909);-webkit-text-stroke:0.28px #1d2433;">2</span>
<span style="left:1170.71px;top:1222.16px;font-size:17.09px;line-height:21px;font-weight:bold;color:#1d2433;transform:scaleX(1.2672);-webkit-text-stroke:0.28px #1d2433;">8</span>
<span style="left:1211.00px;top:1222.16px;font-size:17.09px;line-height:21px;font-weight:bold;color:#1d2433;transform:scaleX(1.1909);-webkit-text-stroke:0.28px #1d2433;">2</span>
<span style="left:1221.77px;top:1222.16px;font-size:17.09px;line-height:21px;font-weight:bold;color:#1d2433;transform:scaleX(1.2419);-webkit-text-stroke:0.28px #1d2433;">9</span>
<span style="left:1261.65px;top:1222.16px;font-size:17.09px;line-height:21px;font-weight:bold;color:#1d2433;transform:scaleX(1.1521);-webkit-text-stroke:0.28px #1d2433;">3</span>
<span style="left:1272.01px;top:1222.16px;font-size:17.09px;line-height:21px;font-weight:bold;color:#1d2433;transform:scaleX(1.3259);-webkit-text-stroke:0.28px #1d2433;">0</span>
<span style="left:1439.19px;top:285.40px;font-size:23.3px;line-height:28px;font-weight:bold;color:#ffffff;transform:scaleX(1.0437);">MCAT</span>
<span style="left:1513.59px;top:285.40px;font-size:23.3px;line-height:28px;font-weight:bold;color:#ffffff;transform:scaleX(1.1105);">Admin</span>
<span style="left:1699.50px;top:285.40px;font-size:23.3px;line-height:28px;font-weight:bold;color:#9bd474;transform:scaleX(1.0424);">Score</span>
<span style="left:1772.36px;top:285.40px;font-size:23.3px;line-height:28px;font-weight:bold;color:#9bd474;transform:scaleX(1.0633);">Release</span>
<span style="left:1466.05px;top:324.50px;font-size:17.1px;line-height:21px;font-weight:normal;color:#5c5c5e;transform:scaleX(0.9912);">Jan. 13</span>
<span style="left:1741.76px;top:324.50px;font-size:17.1px;line-height:21px;font-weight:normal;color:#5c5c5e;transform:scaleX(1.0337);">Feb. 14</span>
<span style="left:1466.04px;top:356.09px;font-size:17.1px;line-height:21px;font-weight:normal;color:#5c5c5e;transform:scaleX(1.0119);">Jan. 14</span>
<span style="left:1741.76px;top:356.09px;font-size:17.1px;line-height:21px;font-weight:normal;color:#5c5c5e;transform:scaleX(1.0337);">Feb. 14</span>
<span style="left:1466.04px;top:387.68px;font-size:17.1px;line-height:21px;font-weight:normal;color:#5c5c5e;transform:scaleX(1.0065);">Jan. 19</span>
<span style="left:1741.80px;top:387.68px;font-size:17.1px;line-height:21px;font-weight:normal;color:#5c5c5e;transform:scaleX(1.0042);">Feb. 21</span>
<span style="left:1466.03px;top:419.27px;font-size:17.1px;line-height:21px;font-weight:normal;color:#5c5c5e;transform:scaleX(1.0586);">Jan. 27</span>
<span style="left:1741.62px;top:419.27px;font-size:17.1px;line-height:21px;font-weight:normal;color:#5c5c5e;transform:scaleX(1.1377);">Mar 3</span>
<span style="left:1464.84px;top:450.86px;font-size:17.1px;line-height:21px;font-weight:normal;color:#5c5c5e;transform:scaleX(1.0534);">March 11</span>
<span style="left:1743.18px;top:450.86px;font-size:17.1px;line-height:21px;font-weight:normal;color:#5c5c5e;transform:scaleX(0.9973);">April 11</span>
<span style="left:1464.69px;top:482.45px;font-size:17.1px;line-height:21px;font-weight:normal;color:#5c5c5e;transform:scaleX(1.1613);">March 24</span>
<span style="left:1743.18px;top:482.45px;font-size:17.1px;line-height:21px;font-weight:normal;color:#5c5c5e;transform:scaleX(1.1107);">April 25</span>
<span style="left:1466.28px;top:514.04px;font-size:17.1px;line-height:21px;font-weight:normal;color:#5c5c5e;transform:scaleX(1.0822);">April 14</span>
<span style="left:1741.73px;top:514.04px;font-size:17.1px;line-height:21px;font-weight:normal;color:#5c5c5e;transform:scaleX(1.0584);">May 16</span>
<span style="left:1466.28px;top:545.63px;font-size:17.1px;line-height:21px;font-weight:normal;color:#5c5c5e;transform:scaleX(1.0705);">April 15</span>
<span style="left:1741.73px;top:545.63px;font-size:17.1px;line-height:21px;font-weight:normal;color:#5c5c5e;transform:scaleX(1.0584);">May 16</span>
<span style="left:1466.28px;top:577.22px;font-size:17.1px;line-height:21px;font-weight:normal;color:#5c5c5e;transform:scaleX(1.1460);">April 28</span>
<span style="left:1741.75px;top:577.22px;font-size:17.1px;line-height:21px;font-weight:normal;color:#5c5c5e;transform:scaleX(1.0433);">May 31</span>
<span style="left:1466.28px;top:608.81px;font-size:17.1px;line-height:21px;font-weight:normal;color:#5c5c5e;transform:scaleX(1.1420);">April 29</span>
<span style="left:1741.75px;top:608.81px;font-size:17.1px;line-height:21px;font-weight:normal;color:#5c5c5e;transform:scaleX(1.0433);">May 31</span>
<span style="left:1464.85px;top:640.40px;font-size:17.1px;line-height:21px;font-weight:normal;color:#5c5c5e;transform:scaleX(1.0438);">May 12</span>
<span style="left:1742.93px;top:640.40px;font-size:17.1px;line-height:21px;font-weight:normal;color:#5c5c5e;transform:scaleX(1.0560);">June 13</span>
<span style="left:1464.85px;top:671.99px;font-size:17.1px;line-height:21px;font-weight:normal;color:#5c5c5e;transform:scaleX(1.0417);">May 13</span>
<span style="left:1742.93px;top:671.99px;font-size:17.1px;line-height:21px;font-weight:normal;color:#5c5c5e;transform:scaleX(1.0560);">June 13</span>
<span style="left:1464.82px;top:703.58px;font-size:17.1px;line-height:21px;font-weight:normal;color:#5c5c5e;transform:scaleX(1.0654);">May 18</span>
<span style="left:1742.93px;top:703.58px;font-size:17.1px;line-height:21px;font-weight:normal;color:#5c5c5e;transform:scaleX(1.0575);">June 21</span>
<span style="left:1464.74px;top:735.17px;font-size:17.1px;line-height:21px;font-weight:normal;color:#5c5c5e;transform:scaleX(1.1251);">May 26</span>
<span style="left:1742.91px;top:735.17px;font-size:17.1px;line-height:21px;font-weight:normal;color:#5c5c5e;transform:scaleX(1.1164);">June 27</span>
<span style="left:1466.01px;top:766.76px;font-size:17.1px;line-height:21px;font-weight:normal;color:#5c5c5e;transform:scaleX(1.1264);">June 3</span>
<span style="left:1742.91px;top:766.76px;font-size:17.1px;line-height:21px;font-weight:normal;color:#5c5c5e;transform:scaleX(1.1381);">July 6</span>
<span style="left:1466.03px;top:798.35px;font-size:17.1px;line-height:21px;font-weight:normal;color:#5c5c5e;transform:scaleX(1.0693);">June 16</span>
<span style="left:1742.93px;top:798.35px;font-size:17.1px;line-height:21px;font-weight:normal;color:#5c5c5e;transform:scaleX(1.0507);">July 18</span>
<span style="left:1466.03px;top:829.94px;font-size:17.1px;line-height:21px;font-weight:normal;color:#5c5c5e;transform:scaleX(1.0579);">June 17</span>
<span style="left:1742.93px;top:829.94px;font-size:17.1px;line-height:21px;font-weight:normal;color:#5c5c5e;transform:scaleX(1.0507);">July 18</span>
<span style="left:1466.01px;top:861.53px;font-size:17.1px;line-height:21px;font-weight:normal;color:#5c5c5e;transform:scaleX(1.1195);">June 23</span>
<span style="left:1742.92px;top:861.53px;font-size:17.1px;line-height:21px;font-weight:normal;color:#5c5c5e;transform:scaleX(1.1010);">July 25</span>
<span style="left:1466.01px;top:893.12px;font-size:17.1px;line-height:21px;font-weight:normal;color:#5c5c5e;transform:scaleX(1.1363);">June 24</span>
<span style="left:1742.92px;top:893.12px;font-size:17.1px;line-height:21px;font-weight:normal;color:#5c5c5e;transform:scaleX(1.1010);">July 25</span>
<span style="left:1466.01px;top:924.71px;font-size:17.1px;line-height:21px;font-weight:normal;color:#5c5c5e;transform:scaleX(1.1336);">June 29</span>
<span style="left:1742.94px;top:924.71px;font-size:17.1px;line-height:21px;font-weight:normal;color:#5c5c5e;transform:scaleX(0.9990);">Jul 31</span>
<span style="left:1466.04px;top:956.30px;font-size:17.1px;line-height:21px;font-weight:normal;color:#5c5c5e;transform:scaleX(1.0296);">July 15</span>
<span style="left:1743.18px;top:956.30px;font-size:17.1px;line-height:21px;font-weight:normal;color:#5c5c5e;transform:scaleX(1.0288);">Aug. 15</span>
<span style="left:1466.01px;top:987.89px;font-size:17.1px;line-height:21px;font-weight:normal;color:#5c5c5e;transform:scaleX(1.1165);">July 28</span>
<span style="left:1743.18px;top:987.89px;font-size:17.1px;line-height:21px;font-weight:normal;color:#5c5c5e;transform:scaleX(1.1094);">Aug. 29</span>
<span style="left:1466.28px;top:1019.48px;font-size:17.1px;line-height:21px;font-weight:normal;color:#5c5c5e;transform:scaleX(1.1323);">Aug. 4</span>
<span style="left:1742.35px;top:1019.48px;font-size:17.1px;line-height:21px;font-weight:normal;color:#5c5c5e;transform:scaleX(1.1069);">Sept. 6</span>
<span style="left:1466.28px;top:1051.07px;font-size:17.1px;line-height:21px;font-weight:normal;color:#5c5c5e;transform:scaleX(1.0458);">Aug. 19</span>
<span style="left:1742.41px;top:1051.07px;font-size:17.1px;line-height:21px;font-weight:normal;color:#5c5c5e;transform:scaleX(1.0316);">Sept. 19</span>
<span style="left:1466.28px;top:1082.66px;font-size:17.1px;line-height:21px;font-weight:normal;color:#5c5c5e;transform:scaleX(1.0957);">Aug. 25</span>
<span style="left:1742.36px;top:1082.66px;font-size:17.1px;line-height:21px;font-weight:normal;color:#5c5c5e;transform:scaleX(1.0904);">Sept. 26</span>
<span style="left:1466.28px;top:1114.25px;font-size:17.1px;line-height:21px;font-weight:normal;color:#5c5c5e;transform:scaleX(1.1069);">Aug. 26</span>
<span style="left:1742.36px;top:1114.25px;font-size:17.1px;line-height:21px;font-weight:normal;color:#5c5c5e;transform:scaleX(1.0904);">Sept. 26</span>
<span style="left:1466.28px;top:1145.84px;font-size:17.1px;line-height:21px;font-weight:normal;color:#5c5c5e;transform:scaleX(1.0224);">Aug. 31</span>
<span style="left:1742.34px;top:1145.84px;font-size:17.1px;line-height:21px;font-weight:normal;color:#5c5c5e;transform:scaleX(1.0936);">Oct. 3</span>
<span style="left:1465.50px;top:1177.43px;font-size:17.1px;line-height:21px;font-weight:normal;color:#5c5c5e;transform:scaleX(1.0384);">Sept. 1</span>
<span style="left:1742.34px;top:1177.43px;font-size:17.1px;line-height:21px;font-weight:normal;color:#5c5c5e;transform:scaleX(1.0936);">Oct. 3</span>
<span style="left:1465.44px;top:1209.02px;font-size:17.1px;line-height:21px;font-weight:normal;color:#5c5c5e;transform:scaleX(1.1160);">Sept. 8</span>
<span style="left:1742.39px;top:1209.02px;font-size:17.1px;line-height:21px;font-weight:normal;color:#5c5c5e;transform:scaleX(1.0189);">Oct. 13</span>
<span style="left:1465.45px;top:1240.61px;font-size:17.1px;line-height:21px;font-weight:normal;color:#5c5c5e;transform:scaleX(1.1078);">Sept. 9</span>
<span style="left:1742.39px;top:1240.61px;font-size:17.1px;line-height:21px;font-weight:normal;color:#5c5c5e;transform:scaleX(1.0189);">Oct. 13</span>
<span style="left:95.70px;top:1398.30px;font-size:18.7px;line-height:22px;font-weight:normal;color:#d9dbdf;transform:scaleX(1.0709);">*The highlighted dates above indicate the U.S. MCAT test dates.</span>
<span style="left:94.36px;top:1420.10px;font-size:18.7px;line-height:22px;font-weight:normal;color:#d9dbdf;transform:scaleX(1.0794);">Note: The MCAT exam is not offered in February or October through December 2023.</span>
<span style="left:94.69px;top:1441.80px;font-size:18.7px;line-height:22px;font-weight:normal;color:#d9dbdf;transform:scaleX(1.0850);">Standard start time will be 8 a.m. each day.</span>
</div>
</body></html>
